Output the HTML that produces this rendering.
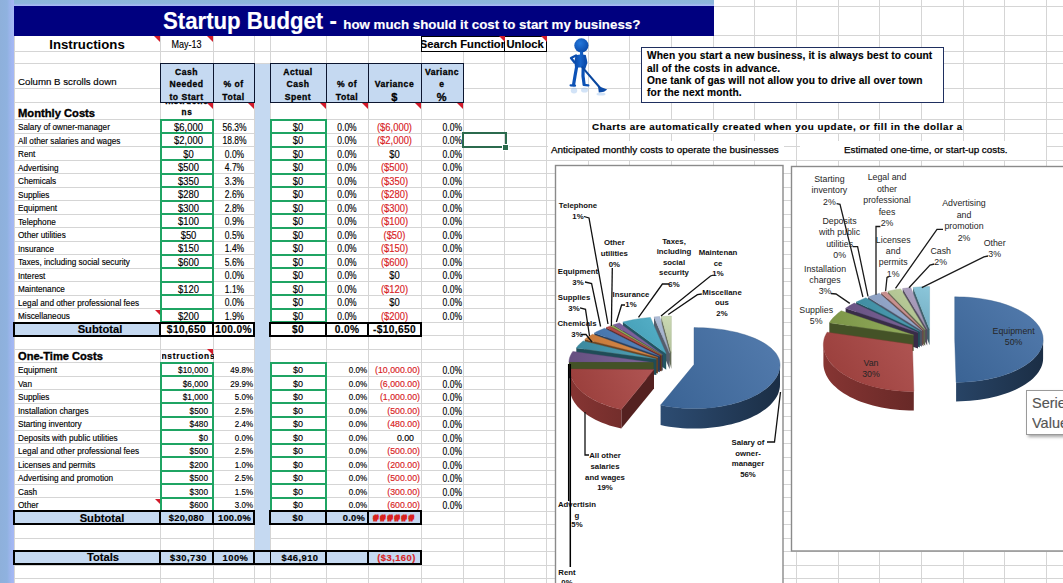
<!DOCTYPE html>
<html><head><meta charset="utf-8"><title>Startup Budget</title>
<style>
html,body{margin:0;padding:0;background:#fff}
body{width:1063px;height:583px;position:relative;overflow:hidden;font-family:"Liberation Sans",sans-serif;color:#000}
body>div,body>svg{position:absolute}
.t{text-align:center;white-space:nowrap;-webkit-text-stroke:.15px currentColor}
.c{text-align:center}
svg text{font-family:"Liberation Sans",sans-serif}
</style></head><body>
<div style="left:13.5px;top:35.0px;width:1.0px;height:548.0px;background:#d5d5d5"></div>
<div style="left:159.5px;top:35.0px;width:1.0px;height:548.0px;background:#d5d5d5"></div>
<div style="left:212.5px;top:35.0px;width:1.0px;height:548.0px;background:#d5d5d5"></div>
<div style="left:253.5px;top:35.0px;width:1.0px;height:548.0px;background:#d5d5d5"></div>
<div style="left:269.5px;top:35.0px;width:1.0px;height:548.0px;background:#d5d5d5"></div>
<div style="left:325.5px;top:35.0px;width:1.0px;height:548.0px;background:#d5d5d5"></div>
<div style="left:367.5px;top:35.0px;width:1.0px;height:548.0px;background:#d5d5d5"></div>
<div style="left:420.5px;top:35.0px;width:1.0px;height:548.0px;background:#d5d5d5"></div>
<div style="left:462.5px;top:35.0px;width:1.0px;height:548.0px;background:#d5d5d5"></div>
<div style="left:504.0px;top:35.0px;width:1.0px;height:548.0px;background:#d5d5d5"></div>
<div style="left:546.0px;top:35.0px;width:1.0px;height:548.0px;background:#d5d5d5"></div>
<div style="left:588.0px;top:35.0px;width:1.0px;height:548.0px;background:#d5d5d5"></div>
<div style="left:629.0px;top:35.0px;width:1.0px;height:548.0px;background:#d5d5d5"></div>
<div style="left:671.0px;top:35.0px;width:1.0px;height:548.0px;background:#d5d5d5"></div>
<div style="left:713.0px;top:35.0px;width:1.0px;height:548.0px;background:#d5d5d5"></div>
<div style="left:754.0px;top:0.0px;width:1.0px;height:583.0px;background:#d5d5d5"></div>
<div style="left:796.0px;top:0.0px;width:1.0px;height:583.0px;background:#d5d5d5"></div>
<div style="left:838.0px;top:0.0px;width:1.0px;height:583.0px;background:#d5d5d5"></div>
<div style="left:879.0px;top:0.0px;width:1.0px;height:583.0px;background:#d5d5d5"></div>
<div style="left:921.0px;top:0.0px;width:1.0px;height:583.0px;background:#d5d5d5"></div>
<div style="left:963.0px;top:0.0px;width:1.0px;height:583.0px;background:#d5d5d5"></div>
<div style="left:1004.0px;top:0.0px;width:1.0px;height:583.0px;background:#d5d5d5"></div>
<div style="left:1046.0px;top:0.0px;width:1.0px;height:583.0px;background:#d5d5d5"></div>
<div style="left:714.0px;top:5.5px;width:349.0px;height:1.0px;background:#d5d5d5"></div>
<div style="left:14.0px;top:35.0px;width:1049.0px;height:1.0px;background:#d5d5d5"></div>
<div style="left:14.0px;top:51.1px;width:1049.0px;height:1.0px;background:#d5d5d5"></div>
<div style="left:14.0px;top:63.1px;width:1049.0px;height:1.0px;background:#d5d5d5"></div>
<div style="left:14.0px;top:88.1px;width:1049.0px;height:1.0px;background:#d5d5d5"></div>
<div style="left:14.0px;top:101.9px;width:1049.0px;height:1.0px;background:#d5d5d5"></div>
<div style="left:14.0px;top:119.3px;width:1049.0px;height:1.0px;background:#d5d5d5"></div>
<div style="left:14.0px;top:132.8px;width:1049.0px;height:1.0px;background:#d5d5d5"></div>
<div style="left:14.0px;top:146.3px;width:1049.0px;height:1.0px;background:#d5d5d5"></div>
<div style="left:14.0px;top:159.8px;width:1049.0px;height:1.0px;background:#d5d5d5"></div>
<div style="left:14.0px;top:173.3px;width:1049.0px;height:1.0px;background:#d5d5d5"></div>
<div style="left:14.0px;top:186.8px;width:1049.0px;height:1.0px;background:#d5d5d5"></div>
<div style="left:14.0px;top:200.3px;width:1049.0px;height:1.0px;background:#d5d5d5"></div>
<div style="left:14.0px;top:213.8px;width:1049.0px;height:1.0px;background:#d5d5d5"></div>
<div style="left:14.0px;top:227.3px;width:1049.0px;height:1.0px;background:#d5d5d5"></div>
<div style="left:14.0px;top:240.8px;width:1049.0px;height:1.0px;background:#d5d5d5"></div>
<div style="left:14.0px;top:254.3px;width:1049.0px;height:1.0px;background:#d5d5d5"></div>
<div style="left:14.0px;top:267.8px;width:1049.0px;height:1.0px;background:#d5d5d5"></div>
<div style="left:14.0px;top:281.3px;width:1049.0px;height:1.0px;background:#d5d5d5"></div>
<div style="left:14.0px;top:294.8px;width:1049.0px;height:1.0px;background:#d5d5d5"></div>
<div style="left:14.0px;top:308.3px;width:1049.0px;height:1.0px;background:#d5d5d5"></div>
<div style="left:14.0px;top:321.8px;width:1049.0px;height:1.0px;background:#d5d5d5"></div>
<div style="left:14.0px;top:335.3px;width:1049.0px;height:1.0px;background:#d5d5d5"></div>
<div style="left:14.0px;top:348.8px;width:1049.0px;height:1.0px;background:#d5d5d5"></div>
<div style="left:14.0px;top:362.3px;width:1049.0px;height:1.0px;background:#d5d5d5"></div>
<div style="left:14.0px;top:375.8px;width:1049.0px;height:1.0px;background:#d5d5d5"></div>
<div style="left:14.0px;top:389.3px;width:1049.0px;height:1.0px;background:#d5d5d5"></div>
<div style="left:14.0px;top:402.8px;width:1049.0px;height:1.0px;background:#d5d5d5"></div>
<div style="left:14.0px;top:416.3px;width:1049.0px;height:1.0px;background:#d5d5d5"></div>
<div style="left:14.0px;top:429.8px;width:1049.0px;height:1.0px;background:#d5d5d5"></div>
<div style="left:14.0px;top:443.3px;width:1049.0px;height:1.0px;background:#d5d5d5"></div>
<div style="left:14.0px;top:456.8px;width:1049.0px;height:1.0px;background:#d5d5d5"></div>
<div style="left:14.0px;top:470.3px;width:1049.0px;height:1.0px;background:#d5d5d5"></div>
<div style="left:14.0px;top:483.8px;width:1049.0px;height:1.0px;background:#d5d5d5"></div>
<div style="left:14.0px;top:497.3px;width:1049.0px;height:1.0px;background:#d5d5d5"></div>
<div style="left:14.0px;top:510.8px;width:1049.0px;height:1.0px;background:#d5d5d5"></div>
<div style="left:14.0px;top:524.3px;width:1049.0px;height:1.0px;background:#d5d5d5"></div>
<div style="left:14.0px;top:537.8px;width:1049.0px;height:1.0px;background:#d5d5d5"></div>
<div style="left:14.0px;top:551.3px;width:1049.0px;height:1.0px;background:#d5d5d5"></div>
<div style="left:14.0px;top:564.8px;width:1049.0px;height:1.0px;background:#d5d5d5"></div>
<div style="left:14.0px;top:578.3px;width:1049.0px;height:1.0px;background:#d5d5d5"></div>
<div style="left:14.0px;top:591.8px;width:1049.0px;height:1.0px;background:#d5d5d5"></div>
<div style="left:0.0px;top:0.0px;width:714.0px;height:6.4px;background:linear-gradient(to bottom,#8cb7d9 0%,#8db6dc 55%,#a6b9f4 90%,#a8baf6 100%)"></div>
<div style="left:0.0px;top:0.0px;width:14.0px;height:583.0px;background:linear-gradient(to right,#8eb0db 0%,#8fb2df 50%,#a0b6f0 80%,#a6b8f6 100%)"></div>
<div style="left:254.5px;top:63.5px;width:15.5px;height:501.5px;background:#c5d9f1"></div>
<div style="left:14.0px;top:6.0px;width:700.0px;height:29.5px;background:#00007f"></div>
<div class="t" style="left:163px;top:6px;width:200px;height:29px;line-height:30.6px;color:#fff;font-weight:bold;text-align:left;font-size:23.2px;transform:scaleX(.957);transform-origin:left center">Startup Budget -</div>
<div class="t" style="left:343.3px;top:6px;width:340px;height:29px;line-height:38.2px;color:#fff;font-weight:bold;text-align:left;font-size:13.3px">how much should it cost to start my business?</div>
<div class="t c" style="left:14.0px;top:36.8px;width:146.0px;height:15.0px;line-height:15.0px;font-size:13.2px;font-weight:bold;-webkit-text-stroke:0">Instructions</div>
<div class="t c" style="left:160.0px;top:37.0px;width:53.0px;height:15.0px;line-height:15.0px;font-size:10px;transform:scaleX(0.9);transform-origin:center center">May-13</div>
<div style="left:421.0px;top:35.5px;width:84.0px;height:16.5px;border:1px solid #000;box-sizing:border-box;background:#fff"></div>
<div style="left:505.0px;top:35.5px;width:42.0px;height:16.5px;border:1px solid #000;box-sizing:border-box;background:#fff;border-left:0"></div>
<div class="t" style="left:422px;top:38px;width:82px;height:13px;line-height:13px;overflow:hidden;text-align:left;font-size:11.2px;font-weight:bold"><span style="margin-left:-2.2px">Search Function</span></div>
<div class="t " style="left:506.5px;top:38.0px;width:40.0px;height:13.0px;line-height:13.0px;font-size:11.2px;font-weight:bold;text-align:left;white-space:nowrap">Unlock</div>
<svg class="a" style="left:154.0px;top:36.0px" width="6" height="6"><polygon points="0,0 6,0 6,6" fill="#d21a2a"/></svg>
<svg class="a" style="left:207.0px;top:36.0px" width="6" height="6"><polygon points="0,0 6,0 6,6" fill="#d21a2a"/></svg>
<svg class="a" style="left:499.0px;top:36.0px" width="6" height="6"><polygon points="0,0 6,0 6,6" fill="#d21a2a"/></svg>
<svg class="a" style="left:541.0px;top:36.0px" width="6" height="6"><polygon points="0,0 6,0 6,6" fill="#d21a2a"/></svg>
<div style="left:160.0px;top:63.0px;width:54.0px;height:40.0px;background:#c5d9f1;border:1px solid #0c1630;box-sizing:border-box"></div>
<div class="t c" style="left:160px;top:65.7px;width:53px;height:38px;line-height:12.4px;font-size:8.6px;font-weight:bold;letter-spacing:.5px;-webkit-text-stroke:.3px #000">Cash<br>Needed<br>to Start</div>
<svg class="a" style="left:207.0px;top:103.0px" width="6" height="6"><polygon points="0,0 6,0 6,6" fill="#d21a2a"/></svg>
<div style="left:213.0px;top:63.0px;width:42.0px;height:40.0px;background:#c5d9f1;border:1px solid #0c1630;box-sizing:border-box"></div>
<div class="t c" style="left:213px;top:65.7px;width:41px;height:38px;line-height:12.4px;font-size:8.6px;font-weight:bold;letter-spacing:.5px;-webkit-text-stroke:.3px #000"><br>% of<br>Total</div>
<svg class="a" style="left:248.0px;top:103.0px" width="6" height="6"><polygon points="0,0 6,0 6,6" fill="#d21a2a"/></svg>
<div style="left:270.0px;top:63.0px;width:57.0px;height:40.0px;background:#c5d9f1;border:1px solid #0c1630;box-sizing:border-box"></div>
<div class="t c" style="left:270px;top:65.7px;width:56px;height:38px;line-height:12.4px;font-size:8.6px;font-weight:bold;letter-spacing:.5px;-webkit-text-stroke:.3px #000">Actual<br>Cash<br>Spent</div>
<svg class="a" style="left:320.0px;top:103.0px" width="6" height="6"><polygon points="0,0 6,0 6,6" fill="#d21a2a"/></svg>
<div style="left:326.0px;top:63.0px;width:43.0px;height:40.0px;background:#c5d9f1;border:1px solid #0c1630;box-sizing:border-box"></div>
<div class="t c" style="left:326px;top:65.7px;width:42px;height:38px;line-height:12.4px;font-size:8.6px;font-weight:bold;letter-spacing:.5px;-webkit-text-stroke:.3px #000"><br>% of<br>Total</div>
<svg class="a" style="left:362.0px;top:103.0px" width="6" height="6"><polygon points="0,0 6,0 6,6" fill="#d21a2a"/></svg>
<div style="left:368.0px;top:63.0px;width:54.0px;height:40.0px;background:#c5d9f1;border:1px solid #0c1630;box-sizing:border-box"></div>
<div class="t c" style="left:368px;top:65.7px;width:53px;height:38px;line-height:12.4px;font-size:8.6px;font-weight:bold;letter-spacing:.5px;-webkit-text-stroke:.3px #000"><br>Variance<br><span style="font-size:11px">$</span></div>
<svg class="a" style="left:415.0px;top:103.0px" width="6" height="6"><polygon points="0,0 6,0 6,6" fill="#d21a2a"/></svg>
<div style="left:421.0px;top:63.0px;width:43.0px;height:40.0px;background:#c5d9f1;border:1px solid #0c1630;box-sizing:border-box"></div>
<div class="t c" style="left:421px;top:65.7px;width:42px;height:38px;line-height:12.4px;font-size:8.6px;font-weight:bold;letter-spacing:.5px;-webkit-text-stroke:.3px #000">Varianc<br>e<br><span style="font-size:11px">%</span></div>
<svg class="a" style="left:457.0px;top:103.0px" width="6" height="6"><polygon points="0,0 6,0 6,6" fill="#d21a2a"/></svg>
<div class="t " style="left:18.0px;top:75.0px;width:140.0px;height:14.0px;line-height:14.0px;font-size:9.7px;text-align:left">Column B scrolls down</div>
<div class="t " style="left:18.0px;top:105.0px;width:140.0px;height:16.0px;line-height:16.0px;font-size:11.2px;font-weight:bold;text-align:left;-webkit-text-stroke:.35px #000">Monthly Costs</div>
<div class="t c" style="left:161px;top:103px;width:52px;height:16px;overflow:hidden"><div style="margin-top:-5.6px;line-height:10.4px;font-size:8.2px;font-weight:bold;letter-spacing:.6px;-webkit-text-stroke:.3px #000">Instructio<br>ns</div></div>
<div style="left:160.0px;top:119.0px;width:2.0px;height:204.0px;background:#1fa463"></div>
<div style="left:212.0px;top:119.0px;width:2.0px;height:204.0px;background:#1fa463"></div>
<div style="left:160.0px;top:119.0px;width:54.0px;height:2.0px;background:#1fa463"></div>
<div style="left:160.0px;top:132.0px;width:54.0px;height:2.0px;background:#1fa463"></div>
<div style="left:160.0px;top:146.0px;width:54.0px;height:2.0px;background:#1fa463"></div>
<div style="left:160.0px;top:159.0px;width:54.0px;height:2.0px;background:#1fa463"></div>
<div style="left:160.0px;top:173.0px;width:54.0px;height:2.0px;background:#1fa463"></div>
<div style="left:160.0px;top:186.0px;width:54.0px;height:2.0px;background:#1fa463"></div>
<div style="left:160.0px;top:200.0px;width:54.0px;height:2.0px;background:#1fa463"></div>
<div style="left:160.0px;top:213.0px;width:54.0px;height:2.0px;background:#1fa463"></div>
<div style="left:160.0px;top:227.0px;width:54.0px;height:2.0px;background:#1fa463"></div>
<div style="left:160.0px;top:240.0px;width:54.0px;height:2.0px;background:#1fa463"></div>
<div style="left:160.0px;top:254.0px;width:54.0px;height:2.0px;background:#1fa463"></div>
<div style="left:160.0px;top:267.0px;width:54.0px;height:2.0px;background:#1fa463"></div>
<div style="left:160.0px;top:281.0px;width:54.0px;height:2.0px;background:#1fa463"></div>
<div style="left:160.0px;top:294.0px;width:54.0px;height:2.0px;background:#1fa463"></div>
<div style="left:160.0px;top:308.0px;width:54.0px;height:2.0px;background:#1fa463"></div>
<div style="left:160.0px;top:321.0px;width:54.0px;height:2.0px;background:#1fa463"></div>
<div style="left:270.0px;top:119.0px;width:2.0px;height:204.0px;background:#1fa463"></div>
<div style="left:325.0px;top:119.0px;width:2.0px;height:204.0px;background:#1fa463"></div>
<div style="left:270.0px;top:119.0px;width:57.0px;height:2.0px;background:#1fa463"></div>
<div style="left:270.0px;top:132.0px;width:57.0px;height:2.0px;background:#1fa463"></div>
<div style="left:270.0px;top:146.0px;width:57.0px;height:2.0px;background:#1fa463"></div>
<div style="left:270.0px;top:159.0px;width:57.0px;height:2.0px;background:#1fa463"></div>
<div style="left:270.0px;top:173.0px;width:57.0px;height:2.0px;background:#1fa463"></div>
<div style="left:270.0px;top:186.0px;width:57.0px;height:2.0px;background:#1fa463"></div>
<div style="left:270.0px;top:200.0px;width:57.0px;height:2.0px;background:#1fa463"></div>
<div style="left:270.0px;top:213.0px;width:57.0px;height:2.0px;background:#1fa463"></div>
<div style="left:270.0px;top:227.0px;width:57.0px;height:2.0px;background:#1fa463"></div>
<div style="left:270.0px;top:240.0px;width:57.0px;height:2.0px;background:#1fa463"></div>
<div style="left:270.0px;top:254.0px;width:57.0px;height:2.0px;background:#1fa463"></div>
<div style="left:270.0px;top:267.0px;width:57.0px;height:2.0px;background:#1fa463"></div>
<div style="left:270.0px;top:281.0px;width:57.0px;height:2.0px;background:#1fa463"></div>
<div style="left:270.0px;top:294.0px;width:57.0px;height:2.0px;background:#1fa463"></div>
<div style="left:270.0px;top:308.0px;width:57.0px;height:2.0px;background:#1fa463"></div>
<div style="left:270.0px;top:321.0px;width:57.0px;height:2.0px;background:#1fa463"></div>
<div class="t " style="left:18.0px;top:121.2px;width:140.0px;height:13.5px;line-height:13.5px;font-size:9.1px;text-align:left;transform:scaleX(0.9);transform-origin:left center">Salary of owner-manager</div>
<div class="t c" style="left:162.0px;top:120.5px;width:53.0px;height:13.5px;line-height:13.5px;font-size:10px;transform:scaleX(0.94);transform-origin:center center">$6,000</div>
<div class="t c" style="left:214.0px;top:120.5px;width:41.0px;height:13.5px;line-height:13.5px;font-size:10px;transform:scaleX(0.85);transform-origin:center center">56.3%</div>
<div class="t c" style="left:270.0px;top:120.5px;width:56.0px;height:13.5px;line-height:13.5px;font-size:10px;transform:scaleX(0.94);transform-origin:center center">$0</div>
<div class="t c" style="left:326.0px;top:120.5px;width:42.0px;height:13.5px;line-height:13.5px;font-size:10px;transform:scaleX(0.85);transform-origin:center center">0.0%</div>
<div class="t c" style="left:368.0px;top:120.5px;width:53.0px;height:13.5px;line-height:13.5px;font-size:10px;color:#d8231f;transform:scaleX(0.94);transform-origin:center center">($6,000)</div>
<div class="t " style="left:421.0px;top:120.5px;width:41.0px;height:13.5px;line-height:13.5px;font-size:10px;text-align:right;transform:scaleX(0.85);transform-origin:right center">0.0%</div>
<div class="t " style="left:18.0px;top:134.7px;width:140.0px;height:13.5px;line-height:13.5px;font-size:9.1px;text-align:left;transform:scaleX(0.9);transform-origin:left center">All other salaries and wages</div>
<div class="t c" style="left:162.0px;top:134.0px;width:53.0px;height:13.5px;line-height:13.5px;font-size:10px;transform:scaleX(0.94);transform-origin:center center">$2,000</div>
<div class="t c" style="left:214.0px;top:134.0px;width:41.0px;height:13.5px;line-height:13.5px;font-size:10px;transform:scaleX(0.85);transform-origin:center center">18.8%</div>
<div class="t c" style="left:270.0px;top:134.0px;width:56.0px;height:13.5px;line-height:13.5px;font-size:10px;transform:scaleX(0.94);transform-origin:center center">$0</div>
<div class="t c" style="left:326.0px;top:134.0px;width:42.0px;height:13.5px;line-height:13.5px;font-size:10px;transform:scaleX(0.85);transform-origin:center center">0.0%</div>
<div class="t c" style="left:368.0px;top:134.0px;width:53.0px;height:13.5px;line-height:13.5px;font-size:10px;color:#d8231f;transform:scaleX(0.94);transform-origin:center center">($2,000)</div>
<div class="t " style="left:421.0px;top:134.0px;width:41.0px;height:13.5px;line-height:13.5px;font-size:10px;text-align:right;transform:scaleX(0.85);transform-origin:right center">0.0%</div>
<div class="t " style="left:18.0px;top:148.2px;width:140.0px;height:13.5px;line-height:13.5px;font-size:9.1px;text-align:left;transform:scaleX(0.9);transform-origin:left center">Rent</div>
<div class="t c" style="left:162.0px;top:147.5px;width:53.0px;height:13.5px;line-height:13.5px;font-size:10px;transform:scaleX(0.94);transform-origin:center center">$0</div>
<div class="t c" style="left:214.0px;top:147.5px;width:41.0px;height:13.5px;line-height:13.5px;font-size:10px;transform:scaleX(0.85);transform-origin:center center">0.0%</div>
<div class="t c" style="left:270.0px;top:147.5px;width:56.0px;height:13.5px;line-height:13.5px;font-size:10px;transform:scaleX(0.94);transform-origin:center center">$0</div>
<div class="t c" style="left:326.0px;top:147.5px;width:42.0px;height:13.5px;line-height:13.5px;font-size:10px;transform:scaleX(0.85);transform-origin:center center">0.0%</div>
<div class="t c" style="left:368.0px;top:147.5px;width:53.0px;height:13.5px;line-height:13.5px;font-size:10px;color:#000;transform:scaleX(0.94);transform-origin:center center">$0</div>
<div class="t " style="left:421.0px;top:147.5px;width:41.0px;height:13.5px;line-height:13.5px;font-size:10px;text-align:right;transform:scaleX(0.85);transform-origin:right center">0.0%</div>
<div class="t " style="left:18.0px;top:161.7px;width:140.0px;height:13.5px;line-height:13.5px;font-size:9.1px;text-align:left;transform:scaleX(0.9);transform-origin:left center">Advertising</div>
<div class="t c" style="left:162.0px;top:161.0px;width:53.0px;height:13.5px;line-height:13.5px;font-size:10px;transform:scaleX(0.94);transform-origin:center center">$500</div>
<div class="t c" style="left:214.0px;top:161.0px;width:41.0px;height:13.5px;line-height:13.5px;font-size:10px;transform:scaleX(0.85);transform-origin:center center">4.7%</div>
<div class="t c" style="left:270.0px;top:161.0px;width:56.0px;height:13.5px;line-height:13.5px;font-size:10px;transform:scaleX(0.94);transform-origin:center center">$0</div>
<div class="t c" style="left:326.0px;top:161.0px;width:42.0px;height:13.5px;line-height:13.5px;font-size:10px;transform:scaleX(0.85);transform-origin:center center">0.0%</div>
<div class="t c" style="left:368.0px;top:161.0px;width:53.0px;height:13.5px;line-height:13.5px;font-size:10px;color:#d8231f;transform:scaleX(0.94);transform-origin:center center">($500)</div>
<div class="t " style="left:421.0px;top:161.0px;width:41.0px;height:13.5px;line-height:13.5px;font-size:10px;text-align:right;transform:scaleX(0.85);transform-origin:right center">0.0%</div>
<div class="t " style="left:18.0px;top:175.2px;width:140.0px;height:13.5px;line-height:13.5px;font-size:9.1px;text-align:left;transform:scaleX(0.9);transform-origin:left center">Chemicals</div>
<div class="t c" style="left:162.0px;top:174.5px;width:53.0px;height:13.5px;line-height:13.5px;font-size:10px;transform:scaleX(0.94);transform-origin:center center">$350</div>
<div class="t c" style="left:214.0px;top:174.5px;width:41.0px;height:13.5px;line-height:13.5px;font-size:10px;transform:scaleX(0.85);transform-origin:center center">3.3%</div>
<div class="t c" style="left:270.0px;top:174.5px;width:56.0px;height:13.5px;line-height:13.5px;font-size:10px;transform:scaleX(0.94);transform-origin:center center">$0</div>
<div class="t c" style="left:326.0px;top:174.5px;width:42.0px;height:13.5px;line-height:13.5px;font-size:10px;transform:scaleX(0.85);transform-origin:center center">0.0%</div>
<div class="t c" style="left:368.0px;top:174.5px;width:53.0px;height:13.5px;line-height:13.5px;font-size:10px;color:#d8231f;transform:scaleX(0.94);transform-origin:center center">($350)</div>
<div class="t " style="left:421.0px;top:174.5px;width:41.0px;height:13.5px;line-height:13.5px;font-size:10px;text-align:right;transform:scaleX(0.85);transform-origin:right center">0.0%</div>
<div class="t " style="left:18.0px;top:188.7px;width:140.0px;height:13.5px;line-height:13.5px;font-size:9.1px;text-align:left;transform:scaleX(0.9);transform-origin:left center">Supplies</div>
<div class="t c" style="left:162.0px;top:188.0px;width:53.0px;height:13.5px;line-height:13.5px;font-size:10px;transform:scaleX(0.94);transform-origin:center center">$280</div>
<div class="t c" style="left:214.0px;top:188.0px;width:41.0px;height:13.5px;line-height:13.5px;font-size:10px;transform:scaleX(0.85);transform-origin:center center">2.6%</div>
<div class="t c" style="left:270.0px;top:188.0px;width:56.0px;height:13.5px;line-height:13.5px;font-size:10px;transform:scaleX(0.94);transform-origin:center center">$0</div>
<div class="t c" style="left:326.0px;top:188.0px;width:42.0px;height:13.5px;line-height:13.5px;font-size:10px;transform:scaleX(0.85);transform-origin:center center">0.0%</div>
<div class="t c" style="left:368.0px;top:188.0px;width:53.0px;height:13.5px;line-height:13.5px;font-size:10px;color:#d8231f;transform:scaleX(0.94);transform-origin:center center">($280)</div>
<div class="t " style="left:421.0px;top:188.0px;width:41.0px;height:13.5px;line-height:13.5px;font-size:10px;text-align:right;transform:scaleX(0.85);transform-origin:right center">0.0%</div>
<div class="t " style="left:18.0px;top:202.2px;width:140.0px;height:13.5px;line-height:13.5px;font-size:9.1px;text-align:left;transform:scaleX(0.9);transform-origin:left center">Equipment</div>
<div class="t c" style="left:162.0px;top:201.5px;width:53.0px;height:13.5px;line-height:13.5px;font-size:10px;transform:scaleX(0.94);transform-origin:center center">$300</div>
<div class="t c" style="left:214.0px;top:201.5px;width:41.0px;height:13.5px;line-height:13.5px;font-size:10px;transform:scaleX(0.85);transform-origin:center center">2.8%</div>
<div class="t c" style="left:270.0px;top:201.5px;width:56.0px;height:13.5px;line-height:13.5px;font-size:10px;transform:scaleX(0.94);transform-origin:center center">$0</div>
<div class="t c" style="left:326.0px;top:201.5px;width:42.0px;height:13.5px;line-height:13.5px;font-size:10px;transform:scaleX(0.85);transform-origin:center center">0.0%</div>
<div class="t c" style="left:368.0px;top:201.5px;width:53.0px;height:13.5px;line-height:13.5px;font-size:10px;color:#d8231f;transform:scaleX(0.94);transform-origin:center center">($300)</div>
<div class="t " style="left:421.0px;top:201.5px;width:41.0px;height:13.5px;line-height:13.5px;font-size:10px;text-align:right;transform:scaleX(0.85);transform-origin:right center">0.0%</div>
<div class="t " style="left:18.0px;top:215.7px;width:140.0px;height:13.5px;line-height:13.5px;font-size:9.1px;text-align:left;transform:scaleX(0.9);transform-origin:left center">Telephone</div>
<div class="t c" style="left:162.0px;top:215.0px;width:53.0px;height:13.5px;line-height:13.5px;font-size:10px;transform:scaleX(0.94);transform-origin:center center">$100</div>
<div class="t c" style="left:214.0px;top:215.0px;width:41.0px;height:13.5px;line-height:13.5px;font-size:10px;transform:scaleX(0.85);transform-origin:center center">0.9%</div>
<div class="t c" style="left:270.0px;top:215.0px;width:56.0px;height:13.5px;line-height:13.5px;font-size:10px;transform:scaleX(0.94);transform-origin:center center">$0</div>
<div class="t c" style="left:326.0px;top:215.0px;width:42.0px;height:13.5px;line-height:13.5px;font-size:10px;transform:scaleX(0.85);transform-origin:center center">0.0%</div>
<div class="t c" style="left:368.0px;top:215.0px;width:53.0px;height:13.5px;line-height:13.5px;font-size:10px;color:#d8231f;transform:scaleX(0.94);transform-origin:center center">($100)</div>
<div class="t " style="left:421.0px;top:215.0px;width:41.0px;height:13.5px;line-height:13.5px;font-size:10px;text-align:right;transform:scaleX(0.85);transform-origin:right center">0.0%</div>
<div class="t " style="left:18.0px;top:229.2px;width:140.0px;height:13.5px;line-height:13.5px;font-size:9.1px;text-align:left;transform:scaleX(0.9);transform-origin:left center">Other utilities</div>
<div class="t c" style="left:162.0px;top:228.5px;width:53.0px;height:13.5px;line-height:13.5px;font-size:10px;transform:scaleX(0.94);transform-origin:center center">$50</div>
<div class="t c" style="left:214.0px;top:228.5px;width:41.0px;height:13.5px;line-height:13.5px;font-size:10px;transform:scaleX(0.85);transform-origin:center center">0.5%</div>
<div class="t c" style="left:270.0px;top:228.5px;width:56.0px;height:13.5px;line-height:13.5px;font-size:10px;transform:scaleX(0.94);transform-origin:center center">$0</div>
<div class="t c" style="left:326.0px;top:228.5px;width:42.0px;height:13.5px;line-height:13.5px;font-size:10px;transform:scaleX(0.85);transform-origin:center center">0.0%</div>
<div class="t c" style="left:368.0px;top:228.5px;width:53.0px;height:13.5px;line-height:13.5px;font-size:10px;color:#d8231f;transform:scaleX(0.94);transform-origin:center center">($50)</div>
<div class="t " style="left:421.0px;top:228.5px;width:41.0px;height:13.5px;line-height:13.5px;font-size:10px;text-align:right;transform:scaleX(0.85);transform-origin:right center">0.0%</div>
<div class="t " style="left:18.0px;top:242.7px;width:140.0px;height:13.5px;line-height:13.5px;font-size:9.1px;text-align:left;transform:scaleX(0.9);transform-origin:left center">Insurance</div>
<div class="t c" style="left:162.0px;top:242.0px;width:53.0px;height:13.5px;line-height:13.5px;font-size:10px;transform:scaleX(0.94);transform-origin:center center">$150</div>
<div class="t c" style="left:214.0px;top:242.0px;width:41.0px;height:13.5px;line-height:13.5px;font-size:10px;transform:scaleX(0.85);transform-origin:center center">1.4%</div>
<div class="t c" style="left:270.0px;top:242.0px;width:56.0px;height:13.5px;line-height:13.5px;font-size:10px;transform:scaleX(0.94);transform-origin:center center">$0</div>
<div class="t c" style="left:326.0px;top:242.0px;width:42.0px;height:13.5px;line-height:13.5px;font-size:10px;transform:scaleX(0.85);transform-origin:center center">0.0%</div>
<div class="t c" style="left:368.0px;top:242.0px;width:53.0px;height:13.5px;line-height:13.5px;font-size:10px;color:#d8231f;transform:scaleX(0.94);transform-origin:center center">($150)</div>
<div class="t " style="left:421.0px;top:242.0px;width:41.0px;height:13.5px;line-height:13.5px;font-size:10px;text-align:right;transform:scaleX(0.85);transform-origin:right center">0.0%</div>
<div class="t " style="left:18.0px;top:256.2px;width:140.0px;height:13.5px;line-height:13.5px;font-size:9.1px;text-align:left;transform:scaleX(0.9);transform-origin:left center">Taxes, including social security</div>
<div class="t c" style="left:162.0px;top:255.5px;width:53.0px;height:13.5px;line-height:13.5px;font-size:10px;transform:scaleX(0.94);transform-origin:center center">$600</div>
<div class="t c" style="left:214.0px;top:255.5px;width:41.0px;height:13.5px;line-height:13.5px;font-size:10px;transform:scaleX(0.85);transform-origin:center center">5.6%</div>
<div class="t c" style="left:270.0px;top:255.5px;width:56.0px;height:13.5px;line-height:13.5px;font-size:10px;transform:scaleX(0.94);transform-origin:center center">$0</div>
<div class="t c" style="left:326.0px;top:255.5px;width:42.0px;height:13.5px;line-height:13.5px;font-size:10px;transform:scaleX(0.85);transform-origin:center center">0.0%</div>
<div class="t c" style="left:368.0px;top:255.5px;width:53.0px;height:13.5px;line-height:13.5px;font-size:10px;color:#d8231f;transform:scaleX(0.94);transform-origin:center center">($600)</div>
<div class="t " style="left:421.0px;top:255.5px;width:41.0px;height:13.5px;line-height:13.5px;font-size:10px;text-align:right;transform:scaleX(0.85);transform-origin:right center">0.0%</div>
<div class="t " style="left:18.0px;top:269.7px;width:140.0px;height:13.5px;line-height:13.5px;font-size:9.1px;text-align:left;transform:scaleX(0.9);transform-origin:left center">Interest</div>
<div class="t c" style="left:162.0px;top:269.0px;width:53.0px;height:13.5px;line-height:13.5px;font-size:10px;transform:scaleX(0.94);transform-origin:center center"></div>
<div class="t c" style="left:214.0px;top:269.0px;width:41.0px;height:13.5px;line-height:13.5px;font-size:10px;transform:scaleX(0.85);transform-origin:center center">0.0%</div>
<div class="t c" style="left:270.0px;top:269.0px;width:56.0px;height:13.5px;line-height:13.5px;font-size:10px;transform:scaleX(0.94);transform-origin:center center">$0</div>
<div class="t c" style="left:326.0px;top:269.0px;width:42.0px;height:13.5px;line-height:13.5px;font-size:10px;transform:scaleX(0.85);transform-origin:center center">0.0%</div>
<div class="t c" style="left:368.0px;top:269.0px;width:53.0px;height:13.5px;line-height:13.5px;font-size:10px;color:#000;transform:scaleX(0.94);transform-origin:center center">$0</div>
<div class="t " style="left:421.0px;top:269.0px;width:41.0px;height:13.5px;line-height:13.5px;font-size:10px;text-align:right;transform:scaleX(0.85);transform-origin:right center">0.0%</div>
<div class="t " style="left:18.0px;top:283.2px;width:140.0px;height:13.5px;line-height:13.5px;font-size:9.1px;text-align:left;transform:scaleX(0.9);transform-origin:left center">Maintenance</div>
<div class="t c" style="left:162.0px;top:282.5px;width:53.0px;height:13.5px;line-height:13.5px;font-size:10px;transform:scaleX(0.94);transform-origin:center center">$120</div>
<div class="t c" style="left:214.0px;top:282.5px;width:41.0px;height:13.5px;line-height:13.5px;font-size:10px;transform:scaleX(0.85);transform-origin:center center">1.1%</div>
<div class="t c" style="left:270.0px;top:282.5px;width:56.0px;height:13.5px;line-height:13.5px;font-size:10px;transform:scaleX(0.94);transform-origin:center center">$0</div>
<div class="t c" style="left:326.0px;top:282.5px;width:42.0px;height:13.5px;line-height:13.5px;font-size:10px;transform:scaleX(0.85);transform-origin:center center">0.0%</div>
<div class="t c" style="left:368.0px;top:282.5px;width:53.0px;height:13.5px;line-height:13.5px;font-size:10px;color:#d8231f;transform:scaleX(0.94);transform-origin:center center">($120)</div>
<div class="t " style="left:421.0px;top:282.5px;width:41.0px;height:13.5px;line-height:13.5px;font-size:10px;text-align:right;transform:scaleX(0.85);transform-origin:right center">0.0%</div>
<div class="t " style="left:18.0px;top:296.7px;width:140.0px;height:13.5px;line-height:13.5px;font-size:9.1px;text-align:left;transform:scaleX(0.9);transform-origin:left center">Legal and other professional fees</div>
<div class="t c" style="left:162.0px;top:296.0px;width:53.0px;height:13.5px;line-height:13.5px;font-size:10px;transform:scaleX(0.94);transform-origin:center center"></div>
<div class="t c" style="left:214.0px;top:296.0px;width:41.0px;height:13.5px;line-height:13.5px;font-size:10px;transform:scaleX(0.85);transform-origin:center center">0.0%</div>
<div class="t c" style="left:270.0px;top:296.0px;width:56.0px;height:13.5px;line-height:13.5px;font-size:10px;transform:scaleX(0.94);transform-origin:center center">$0</div>
<div class="t c" style="left:326.0px;top:296.0px;width:42.0px;height:13.5px;line-height:13.5px;font-size:10px;transform:scaleX(0.85);transform-origin:center center">0.0%</div>
<div class="t c" style="left:368.0px;top:296.0px;width:53.0px;height:13.5px;line-height:13.5px;font-size:10px;color:#000;transform:scaleX(0.94);transform-origin:center center">$0</div>
<div class="t " style="left:421.0px;top:296.0px;width:41.0px;height:13.5px;line-height:13.5px;font-size:10px;text-align:right;transform:scaleX(0.85);transform-origin:right center">0.0%</div>
<div class="t " style="left:18.0px;top:310.2px;width:140.0px;height:13.5px;line-height:13.5px;font-size:9.1px;text-align:left;transform:scaleX(0.9);transform-origin:left center">Miscellaneous</div>
<div class="t c" style="left:162.0px;top:309.5px;width:53.0px;height:13.5px;line-height:13.5px;font-size:10px;transform:scaleX(0.94);transform-origin:center center">$200</div>
<div class="t c" style="left:214.0px;top:309.5px;width:41.0px;height:13.5px;line-height:13.5px;font-size:10px;transform:scaleX(0.85);transform-origin:center center">1.9%</div>
<div class="t c" style="left:270.0px;top:309.5px;width:56.0px;height:13.5px;line-height:13.5px;font-size:10px;transform:scaleX(0.94);transform-origin:center center">$0</div>
<div class="t c" style="left:326.0px;top:309.5px;width:42.0px;height:13.5px;line-height:13.5px;font-size:10px;transform:scaleX(0.85);transform-origin:center center">0.0%</div>
<div class="t c" style="left:368.0px;top:309.5px;width:53.0px;height:13.5px;line-height:13.5px;font-size:10px;color:#d8231f;transform:scaleX(0.94);transform-origin:center center">($200)</div>
<div class="t " style="left:421.0px;top:309.5px;width:41.0px;height:13.5px;line-height:13.5px;font-size:10px;text-align:right;transform:scaleX(0.85);transform-origin:right center">0.0%</div>
<svg class="a" style="left:155.0px;top:309.7px" width="5" height="5"><polygon points="0,0 5,0 5,5" fill="#d21a2a"/></svg>
<div style="left:13.0px;top:321.6px;width:148.0px;height:15.0px;background:#c5d9f1;border:2px solid #000;box-sizing:border-box"></div>
<div class="t c" style="left:30.0px;top:322.6px;width:140.0px;height:13.5px;line-height:13.5px;font-size:11.2px;font-weight:bold">Subtotal</div>
<div style="left:159.0px;top:321.6px;width:55.0px;height:15.0px;background:#fff;border:2px solid #000;box-sizing:border-box"></div>
<div class="t c" style="left:160.0px;top:322.6px;width:53.0px;height:13.5px;line-height:13.5px;font-size:10.2px;font-weight:bold;letter-spacing:0.35px;color:#000">$10,650</div>
<div style="left:212.0px;top:321.6px;width:43.0px;height:15.0px;background:#fff;border:2px solid #000;box-sizing:border-box"></div>
<div class="t c" style="left:213.0px;top:322.6px;width:41.0px;height:13.5px;line-height:13.5px;font-size:10.2px;font-weight:bold;letter-spacing:0.35px;color:#000">100.0%</div>
<div style="left:269.0px;top:321.6px;width:58.0px;height:15.0px;background:#fff;border:2px solid #000;box-sizing:border-box"></div>
<div class="t c" style="left:270.0px;top:322.6px;width:56.0px;height:13.5px;line-height:13.5px;font-size:10.2px;font-weight:bold;letter-spacing:0.35px;color:#000">$0</div>
<div style="left:325.0px;top:321.6px;width:44.0px;height:15.0px;background:#fff;border:2px solid #000;box-sizing:border-box"></div>
<div class="t c" style="left:326.0px;top:322.6px;width:42.0px;height:13.5px;line-height:13.5px;font-size:10.2px;font-weight:bold;letter-spacing:0.35px;color:#000">0.0%</div>
<div style="left:367.0px;top:321.6px;width:55.0px;height:15.0px;background:#fff;border:2px solid #000;box-sizing:border-box"></div>
<div class="t c" style="left:368.0px;top:322.6px;width:53.0px;height:13.5px;line-height:13.5px;font-size:10.2px;font-weight:bold;letter-spacing:0.35px;color:#000">-$10,650</div>
<div class="t " style="left:18.0px;top:350.0px;width:140.0px;height:13.5px;line-height:13.5px;font-size:11.1px;font-weight:bold;text-align:left;-webkit-text-stroke:.35px #000">One-Time Costs</div>
<div class="t " style="left:161.5px;top:349.7px;width:52.5px;height:13.5px;line-height:13.5px;font-size:8.4px;font-weight:bold;overflow:hidden;white-space:nowrap;letter-spacing:.75px;text-align:left">nstructions</div>
<svg class="a" style="left:207.0px;top:349.2px" width="6" height="6"><polygon points="0,0 6,0 6,6" fill="#d21a2a"/></svg>
<div style="left:160.0px;top:362.0px;width:2.0px;height:150.0px;background:#1fa463"></div>
<div style="left:212.0px;top:362.0px;width:2.0px;height:150.0px;background:#1fa463"></div>
<div style="left:160.0px;top:362.0px;width:54.0px;height:2.0px;background:#1fa463"></div>
<div style="left:160.0px;top:375.0px;width:54.0px;height:2.0px;background:#1fa463"></div>
<div style="left:160.0px;top:389.0px;width:54.0px;height:2.0px;background:#1fa463"></div>
<div style="left:160.0px;top:402.0px;width:54.0px;height:2.0px;background:#1fa463"></div>
<div style="left:160.0px;top:416.0px;width:54.0px;height:2.0px;background:#1fa463"></div>
<div style="left:160.0px;top:429.0px;width:54.0px;height:2.0px;background:#1fa463"></div>
<div style="left:160.0px;top:443.0px;width:54.0px;height:2.0px;background:#1fa463"></div>
<div style="left:160.0px;top:456.0px;width:54.0px;height:2.0px;background:#1fa463"></div>
<div style="left:160.0px;top:470.0px;width:54.0px;height:2.0px;background:#1fa463"></div>
<div style="left:160.0px;top:483.0px;width:54.0px;height:2.0px;background:#1fa463"></div>
<div style="left:160.0px;top:497.0px;width:54.0px;height:2.0px;background:#1fa463"></div>
<div style="left:160.0px;top:510.0px;width:54.0px;height:2.0px;background:#1fa463"></div>
<div style="left:270.0px;top:362.0px;width:2.0px;height:150.0px;background:#1fa463"></div>
<div style="left:325.0px;top:362.0px;width:2.0px;height:150.0px;background:#1fa463"></div>
<div style="left:270.0px;top:362.0px;width:57.0px;height:2.0px;background:#1fa463"></div>
<div style="left:270.0px;top:375.0px;width:57.0px;height:2.0px;background:#1fa463"></div>
<div style="left:270.0px;top:389.0px;width:57.0px;height:2.0px;background:#1fa463"></div>
<div style="left:270.0px;top:402.0px;width:57.0px;height:2.0px;background:#1fa463"></div>
<div style="left:270.0px;top:416.0px;width:57.0px;height:2.0px;background:#1fa463"></div>
<div style="left:270.0px;top:429.0px;width:57.0px;height:2.0px;background:#1fa463"></div>
<div style="left:270.0px;top:443.0px;width:57.0px;height:2.0px;background:#1fa463"></div>
<div style="left:270.0px;top:456.0px;width:57.0px;height:2.0px;background:#1fa463"></div>
<div style="left:270.0px;top:470.0px;width:57.0px;height:2.0px;background:#1fa463"></div>
<div style="left:270.0px;top:483.0px;width:57.0px;height:2.0px;background:#1fa463"></div>
<div style="left:270.0px;top:497.0px;width:57.0px;height:2.0px;background:#1fa463"></div>
<div style="left:270.0px;top:510.0px;width:57.0px;height:2.0px;background:#1fa463"></div>
<div class="t " style="left:18.0px;top:364.2px;width:140.0px;height:13.5px;line-height:13.5px;font-size:9.1px;text-align:left;transform:scaleX(0.9);transform-origin:left center">Equipment</div>
<div class="t " style="left:160.0px;top:364.2px;width:48.0px;height:13.5px;line-height:13.5px;font-size:9px;text-align:right;transform:scaleX(0.92);transform-origin:right center">$10,000</div>
<div class="t " style="left:213.0px;top:364.2px;width:40.0px;height:13.5px;line-height:13.5px;font-size:8.6px;text-align:right;transform:scaleX(0.93);transform-origin:right center">49.8%</div>
<div class="t c" style="left:270.0px;top:364.2px;width:56.0px;height:13.5px;line-height:13.5px;font-size:9px">$0</div>
<div class="t " style="left:326.0px;top:364.2px;width:41.0px;height:13.5px;line-height:13.5px;font-size:8.6px;text-align:right;transform:scaleX(0.93);transform-origin:right center">0.0%</div>
<div class="t " style="left:368.0px;top:364.2px;width:52.0px;height:13.5px;line-height:13.5px;font-size:8.8px;text-align:right;color:#d8231f">(10,000.00)</div>
<div class="t " style="left:421.0px;top:364.2px;width:41.0px;height:13.5px;line-height:13.5px;font-size:10px;text-align:right;transform:scaleX(0.85);transform-origin:right center">0.0%</div>
<div class="t " style="left:18.0px;top:377.7px;width:140.0px;height:13.5px;line-height:13.5px;font-size:9.1px;text-align:left;transform:scaleX(0.9);transform-origin:left center">Van</div>
<div class="t " style="left:160.0px;top:377.7px;width:48.0px;height:13.5px;line-height:13.5px;font-size:9px;text-align:right;transform:scaleX(0.92);transform-origin:right center">$6,000</div>
<div class="t " style="left:213.0px;top:377.7px;width:40.0px;height:13.5px;line-height:13.5px;font-size:8.6px;text-align:right;transform:scaleX(0.93);transform-origin:right center">29.9%</div>
<div class="t c" style="left:270.0px;top:377.7px;width:56.0px;height:13.5px;line-height:13.5px;font-size:9px">$0</div>
<div class="t " style="left:326.0px;top:377.7px;width:41.0px;height:13.5px;line-height:13.5px;font-size:8.6px;text-align:right;transform:scaleX(0.93);transform-origin:right center">0.0%</div>
<div class="t " style="left:368.0px;top:377.7px;width:52.0px;height:13.5px;line-height:13.5px;font-size:8.8px;text-align:right;color:#d8231f">(6,000.00)</div>
<div class="t " style="left:421.0px;top:377.7px;width:41.0px;height:13.5px;line-height:13.5px;font-size:10px;text-align:right;transform:scaleX(0.85);transform-origin:right center">0.0%</div>
<div class="t " style="left:18.0px;top:391.2px;width:140.0px;height:13.5px;line-height:13.5px;font-size:9.1px;text-align:left;transform:scaleX(0.9);transform-origin:left center">Supplies</div>
<div class="t " style="left:160.0px;top:391.2px;width:48.0px;height:13.5px;line-height:13.5px;font-size:9px;text-align:right;transform:scaleX(0.92);transform-origin:right center">$1,000</div>
<div class="t " style="left:213.0px;top:391.2px;width:40.0px;height:13.5px;line-height:13.5px;font-size:8.6px;text-align:right;transform:scaleX(0.93);transform-origin:right center">5.0%</div>
<div class="t c" style="left:270.0px;top:391.2px;width:56.0px;height:13.5px;line-height:13.5px;font-size:9px">$0</div>
<div class="t " style="left:326.0px;top:391.2px;width:41.0px;height:13.5px;line-height:13.5px;font-size:8.6px;text-align:right;transform:scaleX(0.93);transform-origin:right center">0.0%</div>
<div class="t " style="left:368.0px;top:391.2px;width:52.0px;height:13.5px;line-height:13.5px;font-size:8.8px;text-align:right;color:#d8231f">(1,000.00)</div>
<div class="t " style="left:421.0px;top:391.2px;width:41.0px;height:13.5px;line-height:13.5px;font-size:10px;text-align:right;transform:scaleX(0.85);transform-origin:right center">0.0%</div>
<div class="t " style="left:18.0px;top:404.7px;width:140.0px;height:13.5px;line-height:13.5px;font-size:9.1px;text-align:left;transform:scaleX(0.9);transform-origin:left center">Installation charges</div>
<div class="t " style="left:160.0px;top:404.7px;width:48.0px;height:13.5px;line-height:13.5px;font-size:9px;text-align:right;transform:scaleX(0.92);transform-origin:right center">$500</div>
<div class="t " style="left:213.0px;top:404.7px;width:40.0px;height:13.5px;line-height:13.5px;font-size:8.6px;text-align:right;transform:scaleX(0.93);transform-origin:right center">2.5%</div>
<div class="t c" style="left:270.0px;top:404.7px;width:56.0px;height:13.5px;line-height:13.5px;font-size:9px">$0</div>
<div class="t " style="left:326.0px;top:404.7px;width:41.0px;height:13.5px;line-height:13.5px;font-size:8.6px;text-align:right;transform:scaleX(0.93);transform-origin:right center">0.0%</div>
<div class="t " style="left:368.0px;top:404.7px;width:52.0px;height:13.5px;line-height:13.5px;font-size:8.8px;text-align:right;color:#d8231f">(500.00)</div>
<div class="t " style="left:421.0px;top:404.7px;width:41.0px;height:13.5px;line-height:13.5px;font-size:10px;text-align:right;transform:scaleX(0.85);transform-origin:right center">0.0%</div>
<div class="t " style="left:18.0px;top:418.2px;width:140.0px;height:13.5px;line-height:13.5px;font-size:9.1px;text-align:left;transform:scaleX(0.9);transform-origin:left center">Starting inventory</div>
<div class="t " style="left:160.0px;top:418.2px;width:48.0px;height:13.5px;line-height:13.5px;font-size:9px;text-align:right;transform:scaleX(0.92);transform-origin:right center">$480</div>
<div class="t " style="left:213.0px;top:418.2px;width:40.0px;height:13.5px;line-height:13.5px;font-size:8.6px;text-align:right;transform:scaleX(0.93);transform-origin:right center">2.4%</div>
<div class="t c" style="left:270.0px;top:418.2px;width:56.0px;height:13.5px;line-height:13.5px;font-size:9px">$0</div>
<div class="t " style="left:326.0px;top:418.2px;width:41.0px;height:13.5px;line-height:13.5px;font-size:8.6px;text-align:right;transform:scaleX(0.93);transform-origin:right center">0.0%</div>
<div class="t " style="left:368.0px;top:418.2px;width:52.0px;height:13.5px;line-height:13.5px;font-size:8.8px;text-align:right;color:#d8231f">(480.00)</div>
<div class="t " style="left:421.0px;top:418.2px;width:41.0px;height:13.5px;line-height:13.5px;font-size:10px;text-align:right;transform:scaleX(0.85);transform-origin:right center">0.0%</div>
<div class="t " style="left:18.0px;top:431.7px;width:140.0px;height:13.5px;line-height:13.5px;font-size:9.1px;text-align:left;transform:scaleX(0.9);transform-origin:left center">Deposits with public utilities</div>
<div class="t " style="left:160.0px;top:431.7px;width:48.0px;height:13.5px;line-height:13.5px;font-size:9px;text-align:right;transform:scaleX(0.92);transform-origin:right center">$0</div>
<div class="t " style="left:213.0px;top:431.7px;width:40.0px;height:13.5px;line-height:13.5px;font-size:8.6px;text-align:right;transform:scaleX(0.93);transform-origin:right center">0.0%</div>
<div class="t c" style="left:270.0px;top:431.7px;width:56.0px;height:13.5px;line-height:13.5px;font-size:9px">$0</div>
<div class="t " style="left:326.0px;top:431.7px;width:41.0px;height:13.5px;line-height:13.5px;font-size:8.6px;text-align:right;transform:scaleX(0.93);transform-origin:right center">0.0%</div>
<div class="t " style="left:368.0px;top:431.7px;width:52.0px;height:13.5px;line-height:13.5px;font-size:8.8px;text-align:right;color:#000;padding-right:6px;box-sizing:border-box">0.00</div>
<div class="t " style="left:421.0px;top:431.7px;width:41.0px;height:13.5px;line-height:13.5px;font-size:10px;text-align:right;transform:scaleX(0.85);transform-origin:right center">0.0%</div>
<div class="t " style="left:18.0px;top:445.2px;width:140.0px;height:13.5px;line-height:13.5px;font-size:9.1px;text-align:left;transform:scaleX(0.9);transform-origin:left center">Legal and other professional fees</div>
<div class="t " style="left:160.0px;top:445.2px;width:48.0px;height:13.5px;line-height:13.5px;font-size:9px;text-align:right;transform:scaleX(0.92);transform-origin:right center">$500</div>
<div class="t " style="left:213.0px;top:445.2px;width:40.0px;height:13.5px;line-height:13.5px;font-size:8.6px;text-align:right;transform:scaleX(0.93);transform-origin:right center">2.5%</div>
<div class="t c" style="left:270.0px;top:445.2px;width:56.0px;height:13.5px;line-height:13.5px;font-size:9px">$0</div>
<div class="t " style="left:326.0px;top:445.2px;width:41.0px;height:13.5px;line-height:13.5px;font-size:8.6px;text-align:right;transform:scaleX(0.93);transform-origin:right center">0.0%</div>
<div class="t " style="left:368.0px;top:445.2px;width:52.0px;height:13.5px;line-height:13.5px;font-size:8.8px;text-align:right;color:#d8231f">(500.00)</div>
<div class="t " style="left:421.0px;top:445.2px;width:41.0px;height:13.5px;line-height:13.5px;font-size:10px;text-align:right;transform:scaleX(0.85);transform-origin:right center">0.0%</div>
<div class="t " style="left:18.0px;top:458.7px;width:140.0px;height:13.5px;line-height:13.5px;font-size:9.1px;text-align:left;transform:scaleX(0.9);transform-origin:left center">Licenses and permits</div>
<div class="t " style="left:160.0px;top:458.7px;width:48.0px;height:13.5px;line-height:13.5px;font-size:9px;text-align:right;transform:scaleX(0.92);transform-origin:right center">$200</div>
<div class="t " style="left:213.0px;top:458.7px;width:40.0px;height:13.5px;line-height:13.5px;font-size:8.6px;text-align:right;transform:scaleX(0.93);transform-origin:right center">1.0%</div>
<div class="t c" style="left:270.0px;top:458.7px;width:56.0px;height:13.5px;line-height:13.5px;font-size:9px">$0</div>
<div class="t " style="left:326.0px;top:458.7px;width:41.0px;height:13.5px;line-height:13.5px;font-size:8.6px;text-align:right;transform:scaleX(0.93);transform-origin:right center">0.0%</div>
<div class="t " style="left:368.0px;top:458.7px;width:52.0px;height:13.5px;line-height:13.5px;font-size:8.8px;text-align:right;color:#d8231f">(200.00)</div>
<div class="t " style="left:421.0px;top:458.7px;width:41.0px;height:13.5px;line-height:13.5px;font-size:10px;text-align:right;transform:scaleX(0.85);transform-origin:right center">0.0%</div>
<div class="t " style="left:18.0px;top:472.2px;width:140.0px;height:13.5px;line-height:13.5px;font-size:9.1px;text-align:left;transform:scaleX(0.9);transform-origin:left center">Advertising and promotion</div>
<div class="t " style="left:160.0px;top:472.2px;width:48.0px;height:13.5px;line-height:13.5px;font-size:9px;text-align:right;transform:scaleX(0.92);transform-origin:right center">$500</div>
<div class="t " style="left:213.0px;top:472.2px;width:40.0px;height:13.5px;line-height:13.5px;font-size:8.6px;text-align:right;transform:scaleX(0.93);transform-origin:right center">2.5%</div>
<div class="t c" style="left:270.0px;top:472.2px;width:56.0px;height:13.5px;line-height:13.5px;font-size:9px">$0</div>
<div class="t " style="left:326.0px;top:472.2px;width:41.0px;height:13.5px;line-height:13.5px;font-size:8.6px;text-align:right;transform:scaleX(0.93);transform-origin:right center">0.0%</div>
<div class="t " style="left:368.0px;top:472.2px;width:52.0px;height:13.5px;line-height:13.5px;font-size:8.8px;text-align:right;color:#d8231f">(500.00)</div>
<div class="t " style="left:421.0px;top:472.2px;width:41.0px;height:13.5px;line-height:13.5px;font-size:10px;text-align:right;transform:scaleX(0.85);transform-origin:right center">0.0%</div>
<div class="t " style="left:18.0px;top:485.7px;width:140.0px;height:13.5px;line-height:13.5px;font-size:9.1px;text-align:left;transform:scaleX(0.9);transform-origin:left center">Cash</div>
<div class="t " style="left:160.0px;top:485.7px;width:48.0px;height:13.5px;line-height:13.5px;font-size:9px;text-align:right;transform:scaleX(0.92);transform-origin:right center">$300</div>
<div class="t " style="left:213.0px;top:485.7px;width:40.0px;height:13.5px;line-height:13.5px;font-size:8.6px;text-align:right;transform:scaleX(0.93);transform-origin:right center">1.5%</div>
<div class="t c" style="left:270.0px;top:485.7px;width:56.0px;height:13.5px;line-height:13.5px;font-size:9px">$0</div>
<div class="t " style="left:326.0px;top:485.7px;width:41.0px;height:13.5px;line-height:13.5px;font-size:8.6px;text-align:right;transform:scaleX(0.93);transform-origin:right center">0.0%</div>
<div class="t " style="left:368.0px;top:485.7px;width:52.0px;height:13.5px;line-height:13.5px;font-size:8.8px;text-align:right;color:#d8231f">(300.00)</div>
<div class="t " style="left:421.0px;top:485.7px;width:41.0px;height:13.5px;line-height:13.5px;font-size:10px;text-align:right;transform:scaleX(0.85);transform-origin:right center">0.0%</div>
<div class="t " style="left:18.0px;top:499.2px;width:140.0px;height:13.5px;line-height:13.5px;font-size:9.1px;text-align:left;transform:scaleX(0.9);transform-origin:left center">Other</div>
<div class="t " style="left:160.0px;top:499.2px;width:48.0px;height:13.5px;line-height:13.5px;font-size:9px;text-align:right;transform:scaleX(0.92);transform-origin:right center">$600</div>
<div class="t " style="left:213.0px;top:499.2px;width:40.0px;height:13.5px;line-height:13.5px;font-size:8.6px;text-align:right;transform:scaleX(0.93);transform-origin:right center">3.0%</div>
<div class="t c" style="left:270.0px;top:499.2px;width:56.0px;height:13.5px;line-height:13.5px;font-size:9px">$0</div>
<div class="t " style="left:326.0px;top:499.2px;width:41.0px;height:13.5px;line-height:13.5px;font-size:8.6px;text-align:right;transform:scaleX(0.93);transform-origin:right center">0.0%</div>
<div class="t " style="left:368.0px;top:499.2px;width:52.0px;height:13.5px;line-height:13.5px;font-size:8.8px;text-align:right;color:#d8231f">(600.00)</div>
<div class="t " style="left:421.0px;top:499.2px;width:41.0px;height:13.5px;line-height:13.5px;font-size:10px;text-align:right;transform:scaleX(0.85);transform-origin:right center">0.0%</div>
<svg class="a" style="left:155.0px;top:498.7px" width="5" height="5"><polygon points="0,0 5,0 5,5" fill="#d21a2a"/></svg>
<div style="left:13.0px;top:510.2px;width:148.0px;height:15.0px;background:#c5d9f1;border:2px solid #000;box-sizing:border-box"></div>
<div class="t c" style="left:32.0px;top:512.0px;width:140.0px;height:13.5px;line-height:13.5px;font-size:11.2px;font-weight:bold">Subtotal</div>
<div style="left:159.0px;top:510.2px;width:55.0px;height:15.0px;background:#c5d9f1;border:2px solid #000;box-sizing:border-box"></div>
<div class="t c" style="left:160.0px;top:511.2px;width:53.0px;height:13.5px;line-height:13.5px;font-size:9.4px;font-weight:bold;letter-spacing:0.2px;color:#000">$20,080</div>
<div style="left:212.0px;top:510.2px;width:43.0px;height:15.0px;background:#c5d9f1;border:2px solid #000;box-sizing:border-box"></div>
<div class="t " style="left:213.0px;top:511.2px;width:38.0px;height:13.5px;line-height:13.5px;font-size:9.4px;font-weight:bold;letter-spacing:0.2px;text-align:right;color:#000">100.0%</div>
<div style="left:269.0px;top:510.2px;width:58.0px;height:15.0px;background:#c5d9f1;border:2px solid #000;box-sizing:border-box"></div>
<div class="t c" style="left:270.0px;top:511.2px;width:56.0px;height:13.5px;line-height:13.5px;font-size:9.4px;font-weight:bold;letter-spacing:0.2px;color:#000">$0</div>
<div style="left:325.0px;top:510.2px;width:44.0px;height:15.0px;background:#c5d9f1;border:2px solid #000;box-sizing:border-box"></div>
<div class="t " style="left:326.0px;top:511.2px;width:39.0px;height:13.5px;line-height:13.5px;font-size:9.4px;font-weight:bold;letter-spacing:0.2px;text-align:right;color:#000">0.0%</div>
<div style="left:367.0px;top:510.2px;width:55.0px;height:15.0px;background:#c5d9f1;border:2px solid #000;box-sizing:border-box"></div>
<div class="t c" style="left:368.0px;top:511.2px;width:53.0px;height:13.5px;line-height:13.5px;font-size:9.4px;font-weight:bold;letter-spacing:0.2px;-webkit-text-stroke:1.1px #d8231f;letter-spacing:1.9px;color:#d8231f">######</div>
<div style="left:13.0px;top:550.3px;width:148.0px;height:14.5px;background:#c5d9f1;border:2px solid #000;box-sizing:border-box"></div>
<div class="t c" style="left:33.0px;top:551.3px;width:140.0px;height:13.5px;line-height:13.5px;font-size:11.2px;font-weight:bold">Totals</div>
<div style="left:159.0px;top:550.3px;width:55.0px;height:14.5px;background:#c5d9f1;border:2px solid #000;box-sizing:border-box"></div>
<div class="t c" style="left:162.0px;top:551.3px;width:53.0px;height:13.5px;line-height:13.5px;font-size:9.4px;font-weight:bold;letter-spacing:.45px;color:#000">$30,730</div>
<div style="left:212.0px;top:550.3px;width:43.0px;height:14.5px;background:#c5d9f1;border:2px solid #000;box-sizing:border-box"></div>
<div class="t c" style="left:215.0px;top:551.3px;width:41.0px;height:13.5px;line-height:13.5px;font-size:9.4px;font-weight:bold;letter-spacing:.45px;color:#000">100%</div>
<div style="left:269.0px;top:550.3px;width:58.0px;height:14.5px;background:#c5d9f1;border:2px solid #000;box-sizing:border-box"></div>
<div class="t c" style="left:272.0px;top:551.3px;width:56.0px;height:13.5px;line-height:13.5px;font-size:9.4px;font-weight:bold;letter-spacing:.45px;color:#000">$46,910</div>
<div style="left:325.0px;top:550.3px;width:44.0px;height:14.5px;background:#c5d9f1;border:2px solid #000;box-sizing:border-box"></div>
<div class="t c" style="left:328.0px;top:551.3px;width:42.0px;height:13.5px;line-height:13.5px;font-size:9.4px;font-weight:bold;letter-spacing:.45px;color:#000"></div>
<div style="left:367.0px;top:550.3px;width:55.0px;height:14.5px;background:#c5d9f1;border:2px solid #000;box-sizing:border-box"></div>
<div class="t c" style="left:370.0px;top:551.3px;width:53.0px;height:13.5px;line-height:13.5px;font-size:9.4px;font-weight:bold;letter-spacing:.45px;color:#d8231f">($3,160)</div>
<div style="left:254.5px;top:550.3px;width:15.5px;height:14.5px;background:#c5d9f1;border-top:2px solid #000;border-bottom:2px solid #000;box-sizing:border-box"></div>
<div style="left:462.0px;top:132.0px;width:44.5px;height:16.0px;border:2px solid #2b6a4d;box-sizing:border-box"></div>
<div style="left:501.5px;top:144.0px;width:5.0px;height:5.0px;background:#2b6a4d;border:1px solid #fff;box-sizing:content-box"></div>
<svg style="left:560px;top:36px" width="60" height="64" viewBox="560 36 60 64">
<defs><radialGradient id="hd" cx=".4" cy=".35" r=".75"><stop offset="0" stop-color="#2478dc"/><stop offset="1" stop-color="#0845a3"/></radialGradient>
<linearGradient id="bd" x1="0" y1="0" x2="1" y2="0"><stop offset="0" stop-color="#0a47a6"/><stop offset=".5" stop-color="#1763c8"/><stop offset="1" stop-color="#0a47a6"/></linearGradient></defs>
<g opacity=".35" fill="#7fb0ea"><ellipse cx="574" cy="90.5" rx="3.2" ry="3"/><ellipse cx="584.5" cy="90" rx="3.5" ry="2.6"/><ellipse cx="601" cy="94" rx="4.5" ry="1.6"/></g>
<circle cx="581.4" cy="45.4" r="7.1" fill="url(#hd)"/>
<path d="M580 51.5 L583 51.5 L583.2 54.6 L585.6 55.4 L586.4 60.5 L585 67.5 L575 67.5 L574.4 61 L575.6 55.2 L580 54.4 Z" fill="url(#bd)"/>
<path d="M576 55.5 L571 58 L574.6 62.4" fill="none" stroke="#0c4dad" stroke-width="2.4" stroke-linecap="round" stroke-linejoin="round"/>
<path d="M584.8 56 L586.2 62.5 L584.4 68" fill="none" stroke="#0c4dad" stroke-width="2.4" stroke-linecap="round" stroke-linejoin="round"/>
<path d="M576.6 67 L575 76 L573.6 84.6" fill="none" stroke="#0d52b6" stroke-width="3.2" stroke-linecap="round" stroke-linejoin="round"/>
<path d="M583.2 67 L583 76 L584 83.6" fill="none" stroke="#0d52b6" stroke-width="3.2" stroke-linecap="round" stroke-linejoin="round"/>
<path d="M570.6 85.4 L575 85.6" fill="none" stroke="#0d52b4" stroke-width="2.2" stroke-linecap="round"/>
<path d="M583.6 84.8 L588.4 85.4" fill="none" stroke="#0d52b4" stroke-width="2.2" stroke-linecap="round"/>
<path d="M582.4 67.4 L600.4 88.2" fill="none" stroke="#0a479f" stroke-width="2.1" stroke-linecap="round"/>
<path d="M598 86 L607.2 89.6 L604 91.8 L598.8 92.6 Z" fill="#0c4aa6"/>
</svg>
<div style="left:641.0px;top:46.6px;width:303.0px;height:56.0px;background:#fff;border:1px solid #1f2f5f;box-sizing:border-box"></div>
<div class="t" style="left:647px;top:50.3px;width:300px;height:50px;line-height:12.35px;font-size:10.2px;font-weight:bold;text-align:left;letter-spacing:.13px;white-space:nowrap">When you start a new business, it is always best to count<br>all of the costs in advance.<br>One tank of gas will not allow you to drive all over town<br>for the next month.</div>
<div style="left:588.8px;top:120.3px;width:374.2px;height:12.5px;background:#fff"></div>
<div style="left:548.0px;top:141.0px;width:236.0px;height:18.5px;background:#fff"></div>
<div style="left:800.0px;top:141.0px;width:246.0px;height:18.5px;background:#fff"></div>
<div class="t " style="left:592.0px;top:119.5px;width:371.0px;height:14.0px;line-height:14.0px;font-size:9.8px;font-weight:bold;text-align:left;white-space:nowrap;letter-spacing:.56px;overflow:hidden">Charts are automatically created when you update, or fill in the dollar a</div>
<div class="t " style="left:551.0px;top:142.5px;width:240.0px;height:14.0px;line-height:14.0px;font-size:9.9px;text-align:left;white-space:nowrap;-webkit-text-stroke:.25px #000">Anticipated monthly costs to operate the businesses</div>
<div class="t " style="left:844.0px;top:142.5px;width:200.0px;height:14.0px;line-height:14.0px;font-size:9.85px;text-align:left;white-space:nowrap;-webkit-text-stroke:.25px #000">Estimated one-time, or start-up costs.</div>
<svg style="left:540px;top:160px" width="250" height="423" viewBox="540 160 250 423">
<rect x="555.5" y="165.5" width="227.5" height="430" fill="#fff" stroke="#8a8a8a" stroke-width="1.4"/>
<polygon points="671.4,353.1 661.3,316.4 661.3,332.4 671.4,369.1" fill="#636b56"/>
<linearGradient id="t140454077646912" gradientUnits="userSpaceOnUse" x1="671.4" y1="316.1" x2="661.3" y2="353.1"><stop offset="0" stop-color="#cbdab4"/><stop offset="1" stop-color="#b2c09a"/></linearGradient>
<polygon points="671.4,353.1 661.3,316.4 666.3,316.2 671.4,316.1" fill="url(#t140454077646912)" stroke="#a8b592" stroke-width=".4"/>
<polygon points="669.7,353.2 654.0,316.9 654.0,332.9 669.7,369.2" fill="#555d6b"/>
<linearGradient id="t140454077647040" gradientUnits="userSpaceOnUse" x1="669.7" y1="316.5" x2="654.0" y2="353.2"><stop offset="0" stop-color="#b2c0db"/><stop offset="1" stop-color="#99a7c1"/></linearGradient>
<polygon points="669.7,353.2 654.0,316.9 659.7,316.5" fill="url(#t140454077647040)" stroke="#909eb6" stroke-width=".4"/>
<polygon points="666.2,353.8 622.9,322.0 622.9,338.0 666.2,369.8" fill="#235562"/>
<linearGradient id="t140454077647168" gradientUnits="userSpaceOnUse" x1="666.2" y1="317.4" x2="622.9" y2="353.8"><stop offset="0" stop-color="#58b2ca"/><stop offset="1" stop-color="#3f99b1"/></linearGradient>
<polygon points="666.2,353.8 622.9,322.0 627.2,321.0 631.6,320.0 636.2,319.2 640.8,318.5 645.6,317.9 650.4,317.4" fill="url(#t140454077647168)" stroke="#3b90a7" stroke-width=".4"/>
<polygon points="662.7,354.8 613.3,324.8 613.3,340.8 662.7,370.8" fill="#3e3050"/>
<linearGradient id="t140454077647488" gradientUnits="userSpaceOnUse" x1="662.7" y1="323.0" x2="613.3" y2="354.8"><stop offset="0" stop-color="#8a6fa9"/><stop offset="1" stop-color="#705690"/></linearGradient>
<polygon points="662.7,354.8 613.3,324.8 619.5,323.0" fill="url(#t140454077647488)" stroke="#6a5188" stroke-width=".4"/>
<polygon points="661.9,355.1 610.4,325.9 610.4,341.9 661.9,371.1" fill="#4c5c2a"/>
<linearGradient id="t140454077647232" gradientUnits="userSpaceOnUse" x1="661.9" y1="325.2" x2="610.4" y2="355.1"><stop offset="0" stop-color="#a2c065"/><stop offset="1" stop-color="#88a64b"/></linearGradient>
<polygon points="661.9,355.1 610.4,325.9 612.5,325.2" fill="url(#t140454077647232)" stroke="#819d47" stroke-width=".4"/>
<polygon points="661.3,355.4 606.1,327.5 606.1,343.5 661.3,371.4" fill="#5f2524"/>
<linearGradient id="t140454077647296" gradientUnits="userSpaceOnUse" x1="661.3" y1="326.2" x2="606.1" y2="355.4"><stop offset="0" stop-color="#c45d5a"/><stop offset="1" stop-color="#ab4340"/></linearGradient>
<polygon points="661.3,355.4 606.1,327.5 609.8,326.2" fill="url(#t140454077647296)" stroke="#a13f3d" stroke-width=".4"/>
<polygon points="659.8,356.2 594.3,333.0 594.3,349.0 659.8,372.2" fill="#253f5d"/>
<linearGradient id="t140454077647360" gradientUnits="userSpaceOnUse" x1="659.8" y1="328.3" x2="594.3" y2="356.2"><stop offset="0" stop-color="#5c8ac1"/><stop offset="1" stop-color="#4271a8"/></linearGradient>
<polygon points="659.8,356.2 594.3,333.0 597.5,331.3 601.0,329.8 604.6,328.3" fill="url(#t140454077647360)" stroke="#3e6b9e" stroke-width=".4"/>
<polygon points="657.9,357.5 584.8,339.3 584.8,355.3 657.9,373.5" fill="#6d421e"/>
<linearGradient id="t140454077647424" gradientUnits="userSpaceOnUse" x1="657.9" y1="334.3" x2="584.8" y2="357.5"><stop offset="0" stop-color="#de9050"/><stop offset="1" stop-color="#c57636"/></linearGradient>
<polygon points="657.9,357.5 584.8,339.3 587.1,337.6 589.7,335.9 592.5,334.3" fill="url(#t140454077647424)" stroke="#ba7033" stroke-width=".4"/>
<polygon points="656.4,359.1 576.3,347.9 576.3,363.9 656.4,375.1" fill="#204c57"/>
<linearGradient id="t140454077647552" gradientUnits="userSpaceOnUse" x1="656.4" y1="340.9" x2="576.3" y2="359.1"><stop offset="0" stop-color="#54a2b7"/><stop offset="1" stop-color="#3a889d"/></linearGradient>
<polygon points="656.4,359.1 576.3,347.9 578.2,345.5 580.5,343.2 583.2,340.9" fill="url(#t140454077647552)" stroke="#378194" stroke-width=".4"/>
<polygon points="652.9,362.6 568.9,362.2 568.9,378.2 652.9,378.6" fill="#382c47"/>
<linearGradient id="t140454077647616" gradientUnits="userSpaceOnUse" x1="652.9" y1="351.4" x2="568.9" y2="362.6"><stop offset="0" stop-color="#7f689a"/><stop offset="1" stop-color="#654f80"/></linearGradient>
<polygon points="652.9,362.6 568.9,362.2 569.1,360.0 569.6,357.8 570.4,355.7 571.5,353.5 572.8,351.4" fill="url(#t140454077647616)" stroke="#604a79" stroke-width=".4"/>
<polygon points="653.4,362.6 569.4,362.2 569.4,368.7 653.4,369.1" fill="#445227"/>
<polygon points="653.4,362.6 569.4,362.2 569.4,368.7 653.4,369.1" fill="#445227"/>
<linearGradient id="w140454077681344" gradientUnits="userSpaceOnUse" x1="608.0" y1="0" x2="780.0" y2="0"><stop offset="0" stop-color="#345884"/><stop offset=".5" stop-color="#284466"/><stop offset="1" stop-color="#1b2e45"/></linearGradient>
<polygon points="780.0,364.6 779.9,366.9 779.5,369.3 778.9,371.6 778.1,373.9 777.0,376.2 775.6,378.4 774.1,380.6 772.3,382.8 770.3,384.9 768.1,386.9 765.7,388.9 763.0,390.8 760.2,392.7 757.2,394.4 754.0,396.1 750.6,397.7 747.1,399.2 743.4,400.6 739.6,401.9 735.7,403.1 731.6,404.2 727.4,405.1 723.2,406.0 718.8,406.7 714.4,407.3 709.9,407.8 705.4,408.2 700.9,408.5 696.3,408.6 691.7,408.6 687.1,408.5 682.6,408.2 678.1,407.8 673.6,407.3 669.2,406.7 664.8,406.0 660.6,405.1 660.6,425.1 664.8,426.0 669.2,426.7 673.6,427.3 678.1,427.8 682.6,428.2 687.1,428.5 691.7,428.6 696.3,428.6 700.9,428.5 705.4,428.2 709.9,427.8 714.4,427.3 718.8,426.7 723.2,426.0 727.4,425.1 731.6,424.2 735.7,423.1 739.6,421.9 743.4,420.6 747.1,419.2 750.6,417.7 754.0,416.1 757.2,414.4 760.2,412.7 763.0,410.8 765.7,408.9 768.1,406.9 770.3,404.9 772.3,402.8 774.1,400.6 775.6,398.4 777.0,396.2 778.1,393.9 778.9,391.6 779.5,389.3 779.9,386.9 780.0,384.6" fill="url(#w140454077681344)"/>
<linearGradient id="t140454077681344" gradientUnits="userSpaceOnUse" x1="780.0" y1="327.6" x2="660.6" y2="408.6"><stop offset="0" stop-color="#547cae"/><stop offset="1" stop-color="#3a6394"/></linearGradient>
<polygon points="694.0,364.6 694.0,327.6 698.5,327.7 703.1,327.8 707.6,328.1 712.0,328.4 716.5,328.9 720.8,329.4 725.1,330.1 729.3,330.9 733.4,331.7 737.4,332.6 741.2,333.7 745.0,334.8 748.5,336.0 752.0,337.3 755.3,338.6 758.4,340.1 761.3,341.6 764.0,343.1 766.6,344.7 768.9,346.4 771.0,348.1 772.9,349.9 774.6,351.7 776.1,353.6 777.3,355.5 778.3,357.4 779.1,359.3 779.6,361.2 779.9,363.2 780.0,365.2 779.8,367.6 779.4,369.9 778.7,372.2 777.8,374.5 776.7,376.7 775.3,378.9 773.7,381.1 771.9,383.2 769.9,385.3 767.6,387.3 765.2,389.3 762.5,391.2 759.7,393.0 756.7,394.7 753.5,396.4 750.1,398.0 746.6,399.4 742.9,400.8 739.1,402.1 735.2,403.2 731.1,404.3 727.0,405.2 722.7,406.1 718.4,406.8 714.0,407.4 709.6,407.9 705.1,408.2 700.6,408.5 696.0,408.6 691.5,408.6 686.9,408.5 682.4,408.2 677.9,407.8 673.5,407.3 669.1,406.7 664.8,406.0 660.6,405.1" fill="url(#t140454077681344)" stroke="#375d8c" stroke-width=".4"/>
<polygon points="654.0,369.5 621.3,409.6 621.3,428.6 654.0,388.5" fill="#542120"/>
<linearGradient id="w140454077651648" gradientUnits="userSpaceOnUse" x1="570.0" y1="0" x2="738.0" y2="0"><stop offset="0" stop-color="#863533"/><stop offset=".5" stop-color="#682927"/><stop offset="1" stop-color="#461c1a"/></linearGradient>
<polygon points="621.3,409.6 617.3,408.6 613.3,407.6 609.4,406.4 605.7,405.1 602.1,403.7 598.7,402.2 595.4,400.7 592.3,399.0 589.3,397.3 586.6,395.4 584.0,393.5 581.6,391.6 579.5,389.6 577.5,387.5 575.8,385.3 574.3,383.2 573.0,380.9 571.9,378.7 571.1,376.4 570.5,374.1 570.1,371.8 570.0,369.5 570.0,388.5 570.1,390.8 570.5,393.1 571.1,395.4 571.9,397.7 573.0,399.9 574.3,402.2 575.8,404.3 577.5,406.5 579.5,408.6 581.6,410.6 584.0,412.5 586.6,414.4 589.3,416.3 592.3,418.0 595.4,419.7 598.7,421.2 602.1,422.7 605.7,424.1 609.4,425.4 613.3,426.6 617.3,427.6 621.3,428.6" fill="url(#w140454077651648)"/>
<linearGradient id="t140454077651648" gradientUnits="userSpaceOnUse" x1="654.0" y1="369.1" x2="570.0" y2="409.6"><stop offset="0" stop-color="#b05553"/><stop offset="1" stop-color="#973c39"/></linearGradient>
<polygon points="654.0,369.5 621.3,409.6 617.2,408.6 613.2,407.5 609.3,406.3 605.6,405.0 602.0,403.6 598.5,402.2 595.2,400.6 592.1,398.9 589.1,397.1 586.3,395.3 583.7,393.3 581.4,391.4 579.2,389.3 577.3,387.2 575.5,385.0 574.0,382.8 572.8,380.6 571.7,378.3 570.9,376.0 570.4,373.7 570.1,371.4 570.0,369.1" fill="url(#t140454077651648)" stroke="#8e3836" stroke-width=".4"/>
<text x="578.0" y="207.8" text-anchor="middle" font-size="7.8" font-weight="bold" fill="#111">Telephone</text>
<text x="578.0" y="218.8" text-anchor="middle" font-size="7.8" font-weight="bold" fill="#111">1%</text>
<text x="614.3" y="244.8" text-anchor="middle" font-size="7.8" font-weight="bold" fill="#111">Other</text>
<text x="614.3" y="255.8" text-anchor="middle" font-size="7.8" font-weight="bold" fill="#111">utilities</text>
<text x="614.3" y="266.8" text-anchor="middle" font-size="7.8" font-weight="bold" fill="#111">0%</text>
<text x="674.0" y="243.8" text-anchor="middle" font-size="7.8" font-weight="bold" fill="#111">Taxes,</text>
<text x="674.0" y="254.3" text-anchor="middle" font-size="7.8" font-weight="bold" fill="#111">including</text>
<text x="674.0" y="264.8" text-anchor="middle" font-size="7.8" font-weight="bold" fill="#111">social</text>
<text x="674.0" y="275.3" text-anchor="middle" font-size="7.8" font-weight="bold" fill="#111">security</text>
<text x="674.0" y="286.8" text-anchor="middle" font-size="7.8" font-weight="bold" fill="#111">6%</text>
<text x="718.0" y="254.8" text-anchor="middle" font-size="7.8" font-weight="bold" fill="#111">Maintenan</text>
<text x="718.0" y="265.8" text-anchor="middle" font-size="7.8" font-weight="bold" fill="#111">ce</text>
<text x="718.0" y="275.8" text-anchor="middle" font-size="7.8" font-weight="bold" fill="#111">1%</text>
<text x="578.0" y="273.8" text-anchor="middle" font-size="7.8" font-weight="bold" fill="#111">Equipment</text>
<text x="578.0" y="284.8" text-anchor="middle" font-size="7.8" font-weight="bold" fill="#111">3%</text>
<text x="631.0" y="296.8" text-anchor="middle" font-size="7.8" font-weight="bold" fill="#111">Insurance</text>
<text x="631.0" y="307.3" text-anchor="middle" font-size="7.8" font-weight="bold" fill="#111">1%</text>
<text x="722.0" y="294.8" text-anchor="middle" font-size="7.8" font-weight="bold" fill="#111">Miscellane</text>
<text x="722.0" y="305.3" text-anchor="middle" font-size="7.8" font-weight="bold" fill="#111">ous</text>
<text x="722.0" y="315.8" text-anchor="middle" font-size="7.8" font-weight="bold" fill="#111">2%</text>
<text x="574.0" y="299.8" text-anchor="middle" font-size="7.8" font-weight="bold" fill="#111">Supplies</text>
<text x="574.0" y="310.8" text-anchor="middle" font-size="7.8" font-weight="bold" fill="#111">3%</text>
<text x="577.0" y="325.8" text-anchor="middle" font-size="7.8" font-weight="bold" fill="#111">Chemicals</text>
<text x="577.0" y="336.8" text-anchor="middle" font-size="7.8" font-weight="bold" fill="#111">3%</text>
<text x="748.0" y="444.8" text-anchor="middle" font-size="7.8" font-weight="bold" fill="#111">Salary of</text>
<text x="748.0" y="455.8" text-anchor="middle" font-size="7.8" font-weight="bold" fill="#111">owner-</text>
<text x="748.0" y="466.3" text-anchor="middle" font-size="7.8" font-weight="bold" fill="#111">manager</text>
<text x="748.0" y="476.8" text-anchor="middle" font-size="7.8" font-weight="bold" fill="#111">56%</text>
<text x="605.0" y="458.3" text-anchor="middle" font-size="7.8" font-weight="bold" fill="#111">All other</text>
<text x="605.0" y="469.3" text-anchor="middle" font-size="7.8" font-weight="bold" fill="#111">salaries</text>
<text x="605.0" y="479.8" text-anchor="middle" font-size="7.8" font-weight="bold" fill="#111">and wages</text>
<text x="605.0" y="489.8" text-anchor="middle" font-size="7.8" font-weight="bold" fill="#111">19%</text>
<text x="577.0" y="506.8" text-anchor="middle" font-size="7.8" font-weight="bold" fill="#111">Advertisin</text>
<text x="577.0" y="517.8" text-anchor="middle" font-size="7.8" font-weight="bold" fill="#111">g</text>
<text x="577.0" y="527.3" text-anchor="middle" font-size="7.8" font-weight="bold" fill="#111">5%</text>
<text x="567.0" y="574.8" text-anchor="middle" font-size="7.8" font-weight="bold" fill="#111">Rent</text>
<text x="567.0" y="584.8" text-anchor="middle" font-size="7.8" font-weight="bold" fill="#111">0%</text>
<polyline points="584.0,216.5 589.0,218.0 608.0,324.0" fill="none" stroke="#111" stroke-width="1.3"/>
<polyline points="612.3,268.0 611.4,326.0" fill="none" stroke="#111" stroke-width="1.3"/>
<polyline points="625.0,305.0 621.6,305.0 616.4,322.0" fill="none" stroke="#111" stroke-width="1.3"/>
<polyline points="669.0,284.0 662.4,284.0 638.5,317.4" fill="none" stroke="#111" stroke-width="1.3"/>
<polyline points="713.7,275.0 710.5,276.0 661.0,316.0" fill="none" stroke="#111" stroke-width="1.3"/>
<polyline points="701.8,294.0 697.4,294.7 668.3,314.5" fill="none" stroke="#111" stroke-width="1.3"/>
<polyline points="585.0,282.0 591.6,283.5 600.6,326.5" fill="none" stroke="#111" stroke-width="1.3"/>
<polyline points="580.0,307.8 585.5,309.3 589.5,336.0" fill="none" stroke="#111" stroke-width="1.3"/>
<polyline points="581.0,334.5 586.0,334.5 592.0,342.0" fill="none" stroke="#111" stroke-width="1.3"/>
<polyline points="780.5,392.0 774.5,442.0 767.0,442.0" fill="none" stroke="#111" stroke-width="1.3"/>
<polyline points="585.0,412.0 585.0,455.0 589.0,455.0" fill="none" stroke="#111" stroke-width="1.3"/>
<polyline points="568.7,364.0 568.7,501.0" fill="none" stroke="#000" stroke-width="1.5"/>
<polyline points="570.3,364.0 570.3,567.0" fill="none" stroke="#000" stroke-width="1.5"/>
</svg>
<svg style="left:785px;top:160px" width="278" height="400" viewBox="785 160 278 400">
<rect x="791.5" y="166.5" width="300" height="384.5" fill="#fff" stroke="#8a8a8a" stroke-width="1.4"/>
<polygon points="929.6,329.2 913.1,287.4 913.1,303.4 929.6,345.2" fill="#3f606b"/>
<linearGradient id="t140454077644416" gradientUnits="userSpaceOnUse" x1="929.6" y1="286.6" x2="913.1" y2="329.2"><stop offset="0" stop-color="#8bc6da"/><stop offset="1" stop-color="#72acc0"/></linearGradient>
<polygon points="929.6,329.2 913.1,287.4 918.6,287.0 924.1,286.7 929.6,286.6" fill="url(#t140454077644416)" stroke="#6ba3b5" stroke-width=".4"/>
<polygon points="927.2,329.4 902.7,288.5 902.7,304.5 927.2,345.4" fill="#544d5e"/>
<linearGradient id="t140454077644736" gradientUnits="userSpaceOnUse" x1="927.2" y1="287.6" x2="902.7" y2="329.4"><stop offset="0" stop-color="#b1a5c3"/><stop offset="1" stop-color="#988baa"/></linearGradient>
<polygon points="927.2,329.4 902.7,288.5 910.8,287.6" fill="url(#t140454077644736)" stroke="#8f83a0" stroke-width=".4"/>
<polygon points="925.2,329.8 887.8,291.2 887.8,307.2 925.2,345.8" fill="#5c664b"/>
<linearGradient id="t140454077644480" gradientUnits="userSpaceOnUse" x1="925.2" y1="288.9" x2="887.8" y2="329.8"><stop offset="0" stop-color="#c0d2a0"/><stop offset="1" stop-color="#a6b887"/></linearGradient>
<polygon points="925.2,329.8 887.8,291.2 894.1,289.9 900.7,288.9" fill="url(#t140454077644480)" stroke="#9dae7f" stroke-width=".4"/>
<polygon points="923.5,330.2 881.1,292.8 881.1,308.8 923.5,346.2" fill="#684949"/>
<linearGradient id="t140454077644544" gradientUnits="userSpaceOnUse" x1="923.5" y1="291.6" x2="881.1" y2="330.2"><stop offset="0" stop-color="#d59d9c"/><stop offset="1" stop-color="#bc8483"/></linearGradient>
<polygon points="923.5,330.2 881.1,292.8 886.1,291.6" fill="url(#t140454077644544)" stroke="#b17c7c" stroke-width=".4"/>
<polygon points="921.9,330.7 868.0,297.0 868.0,313.0 921.9,346.7" fill="#495467"/>
<linearGradient id="t140454077644608" gradientUnits="userSpaceOnUse" x1="921.9" y1="293.3" x2="868.0" y2="330.7"><stop offset="0" stop-color="#9db1d3"/><stop offset="1" stop-color="#8498ba"/></linearGradient>
<polygon points="921.9,330.7 868.0,297.0 873.6,295.1 879.5,293.3" fill="url(#t140454077644608)" stroke="#7c8faf" stroke-width=".4"/>
<polygon points="919.8,331.5 856.1,302.1 856.1,318.1 919.8,347.5" fill="#204c57"/>
<linearGradient id="t140454077644864" gradientUnits="userSpaceOnUse" x1="919.8" y1="297.8" x2="856.1" y2="331.5"><stop offset="0" stop-color="#54a2b7"/><stop offset="1" stop-color="#3a889d"/></linearGradient>
<polygon points="919.8,331.5 856.1,302.1 860.8,299.9 865.9,297.8" fill="url(#t140454077644864)" stroke="#378194" stroke-width=".4"/>
<polygon points="918.0,332.5 845.6,308.3 845.6,324.3 918.0,348.5" fill="#382c47"/>
<linearGradient id="t140454077644928" gradientUnits="userSpaceOnUse" x1="918.0" y1="303.1" x2="845.6" y2="332.5"><stop offset="0" stop-color="#7f689a"/><stop offset="1" stop-color="#654f80"/></linearGradient>
<polygon points="918.0,332.5 845.6,308.3 849.7,305.6 854.3,303.1" fill="url(#t140454077644928)" stroke="#604a79" stroke-width=".4"/>
<polygon points="913.6,335.0 829.3,322.8 829.3,338.8 913.6,351.0" fill="#445227"/>
<linearGradient id="t140454077644992" gradientUnits="userSpaceOnUse" x1="913.6" y1="310.8" x2="829.3" y2="335.0"><stop offset="0" stop-color="#94ae5f"/><stop offset="1" stop-color="#7b9446"/></linearGradient>
<polygon points="913.6,335.0 829.3,322.8 831.0,320.3 833.1,317.8 835.5,315.4 838.2,313.1 841.2,310.8" fill="url(#t140454077644992)" stroke="#748c42" stroke-width=".4"/>
<linearGradient id="w140454077645312" gradientUnits="userSpaceOnUse" x1="866.3" y1="0" x2="1043.1" y2="0"><stop offset="0" stop-color="#345884"/><stop offset=".5" stop-color="#284466"/><stop offset="1" stop-color="#1b2e45"/></linearGradient>
<polygon points="1043.1,339.4 1043.0,341.7 1042.6,344.0 1042.0,346.3 1041.1,348.6 1039.9,350.8 1038.6,353.0 1036.9,355.2 1035.1,357.3 1033.0,359.4 1030.7,361.4 1028.2,363.3 1025.4,365.2 1022.5,367.0 1019.3,368.7 1016.0,370.4 1012.5,371.9 1008.8,373.4 1005.0,374.8 1001.1,376.0 997.0,377.2 992.7,378.2 988.4,379.2 984.0,380.0 979.5,380.7 974.9,381.3 970.2,381.7 965.5,382.1 960.8,382.3 956.1,382.4 956.1,401.4 960.8,401.3 965.5,401.1 970.2,400.7 974.9,400.3 979.5,399.7 984.0,399.0 988.4,398.2 992.7,397.2 997.0,396.2 1001.1,395.0 1005.0,393.8 1008.8,392.4 1012.5,390.9 1016.0,389.4 1019.3,387.7 1022.5,386.0 1025.4,384.2 1028.2,382.3 1030.7,380.4 1033.0,378.4 1035.1,376.3 1036.9,374.2 1038.6,372.0 1039.9,369.8 1041.1,367.6 1042.0,365.3 1042.6,363.0 1043.0,360.7 1043.1,358.4" fill="url(#w140454077645312)"/>
<linearGradient id="t140454077645312" gradientUnits="userSpaceOnUse" x1="1043.1" y1="296.8" x2="954.7" y2="382.4"><stop offset="0" stop-color="#547cae"/><stop offset="1" stop-color="#3a6394"/></linearGradient>
<polygon points="954.7,339.4 954.7,296.8 959.4,296.9 964.0,297.0 968.7,297.3 973.3,297.8 977.8,298.3 982.3,298.9 986.7,299.7 991.1,300.6 995.3,301.6 999.4,302.6 1003.4,303.8 1007.2,305.1 1010.9,306.5 1014.4,308.0 1017.8,309.6 1021.0,311.2 1024.0,312.9 1026.8,314.7 1029.4,316.6 1031.8,318.6 1034.0,320.6 1035.9,322.6 1037.7,324.7 1039.2,326.8 1040.4,329.0 1041.5,331.2 1042.2,333.4 1042.8,335.7 1043.0,337.9 1043.1,340.2 1042.9,342.5 1042.4,344.7 1041.7,347.0 1040.8,349.2 1039.6,351.4 1038.1,353.6 1036.5,355.7 1034.6,357.8 1032.5,359.8 1030.1,361.8 1027.6,363.7 1024.8,365.6 1021.9,367.3 1018.8,369.0 1015.4,370.6 1011.9,372.2 1008.3,373.6 1004.5,374.9 1000.6,376.2 996.5,377.3 992.3,378.3 988.0,379.2 983.6,380.0 979.2,380.7 974.6,381.3 970.1,381.7 965.4,382.1 960.8,382.3 956.1,382.4" fill="url(#t140454077645312)" stroke="#375d8c" stroke-width=".4"/>
<linearGradient id="w140454077645248" gradientUnits="userSpaceOnUse" x1="823.4" y1="0" x2="1001.4" y2="0"><stop offset="0" stop-color="#863533"/><stop offset=".5" stop-color="#682927"/><stop offset="1" stop-color="#461c1a"/></linearGradient>
<polygon points="913.8,391.4 909.1,391.4 904.4,391.2 899.7,390.9 895.1,390.5 890.5,390.0 886.0,389.3 881.5,388.5 877.1,387.6 872.9,386.5 868.7,385.3 864.7,384.1 860.8,382.7 857.0,381.2 853.4,379.6 850.0,377.9 846.7,376.1 843.6,374.2 840.7,372.3 838.0,370.2 835.6,368.1 833.3,365.9 831.2,363.7 829.4,361.4 827.8,359.1 826.5,356.7 825.4,354.3 824.5,351.8 823.9,349.4 823.5,346.9 823.4,344.4 823.4,363.4 823.5,365.9 823.9,368.4 824.5,370.8 825.4,373.3 826.5,375.7 827.8,378.1 829.4,380.4 831.2,382.7 833.3,384.9 835.6,387.1 838.0,389.2 840.7,391.3 843.6,393.2 846.7,395.1 850.0,396.9 853.4,398.6 857.0,400.2 860.8,401.7 864.7,403.1 868.7,404.3 872.9,405.5 877.1,406.6 881.5,407.5 886.0,408.3 890.5,409.0 895.1,409.5 899.7,409.9 904.4,410.2 909.1,410.4 913.8,410.4" fill="url(#w140454077645248)"/>
<linearGradient id="t140454077645248" gradientUnits="userSpaceOnUse" x1="913.8" y1="332.2" x2="823.4" y2="391.4"><stop offset="0" stop-color="#b05553"/><stop offset="1" stop-color="#973c39"/></linearGradient>
<polygon points="912.4,344.4 913.8,391.4 909.0,391.4 904.3,391.2 899.5,390.9 894.8,390.5 890.2,389.9 885.6,389.2 881.1,388.4 876.7,387.4 872.3,386.4 868.1,385.2 864.1,383.9 860.1,382.4 856.3,380.9 852.7,379.3 849.3,377.5 846.0,375.7 842.9,373.8 840.0,371.8 837.4,369.7 834.9,367.5 832.7,365.3 830.7,363.0 828.9,360.7 827.4,358.3 826.1,355.8 825.0,353.4 824.3,350.9 823.7,348.4 823.4,345.9 823.4,343.5 823.7,341.2 824.1,338.9 824.9,336.6 825.9,334.4 827.1,332.2" fill="url(#t140454077645248)" stroke="#8e3836" stroke-width=".4"/>
<polyline points="836.6,203.7 840.0,204.3 862.9,297.0" fill="none" stroke="#1a1a1a" stroke-width="1.3"/>
<polyline points="852.7,246.6 857.6,246.6 868.0,296.4" fill="none" stroke="#1a1a1a" stroke-width="1.3"/>
<polyline points="880.4,226.5 876.0,226.5 876.0,294.7" fill="none" stroke="#1a1a1a" stroke-width="1.3"/>
<polyline points="889.0,276.6 887.0,277.5 885.6,291.0" fill="none" stroke="#1a1a1a" stroke-width="1.3"/>
<polyline points="943.0,229.4 937.0,229.4 895.5,288.3" fill="none" stroke="#1a1a1a" stroke-width="1.3"/>
<polyline points="934.3,264.0 930.0,265.0 909.0,287.7" fill="none" stroke="#1a1a1a" stroke-width="1.3"/>
<polyline points="988.0,256.0 983.9,256.8 921.8,287.7" fill="none" stroke="#1a1a1a" stroke-width="1.3"/>
<polyline points="830.8,293.5 836.0,294.0 849.8,303.4" fill="none" stroke="#1a1a1a" stroke-width="1.3"/>
<text x="829.4" y="182.2" text-anchor="middle" font-size="8.8" font-weight="normal" fill="#262626">Starting</text>
<text x="829.4" y="193.2" text-anchor="middle" font-size="8.8" font-weight="normal" fill="#262626">inventory</text>
<text x="829.4" y="204.9" text-anchor="middle" font-size="8.8" font-weight="normal" fill="#262626">2%</text>
<text x="887.0" y="180.2" text-anchor="middle" font-size="8.8" font-weight="normal" fill="#262626">Legal and</text>
<text x="887.0" y="191.5" text-anchor="middle" font-size="8.8" font-weight="normal" fill="#262626">other</text>
<text x="887.0" y="202.9" text-anchor="middle" font-size="8.8" font-weight="normal" fill="#262626">professional</text>
<text x="887.0" y="214.5" text-anchor="middle" font-size="8.8" font-weight="normal" fill="#262626">fees</text>
<text x="887.0" y="225.6" text-anchor="middle" font-size="8.8" font-weight="normal" fill="#262626">2%</text>
<text x="964.0" y="206.2" text-anchor="middle" font-size="8.8" font-weight="normal" fill="#262626">Advertising</text>
<text x="964.0" y="217.7" text-anchor="middle" font-size="8.8" font-weight="normal" fill="#262626">and</text>
<text x="964.0" y="229.2" text-anchor="middle" font-size="8.8" font-weight="normal" fill="#262626">promotion</text>
<text x="964.0" y="240.5" text-anchor="middle" font-size="8.8" font-weight="normal" fill="#262626">2%</text>
<text x="839.6" y="223.8" text-anchor="middle" font-size="8.8" font-weight="normal" fill="#262626">Deposits</text>
<text x="839.6" y="235.2" text-anchor="middle" font-size="8.8" font-weight="normal" fill="#262626">with public</text>
<text x="839.6" y="246.6" text-anchor="middle" font-size="8.8" font-weight="normal" fill="#262626">utilities</text>
<text x="839.6" y="258.0" text-anchor="middle" font-size="8.8" font-weight="normal" fill="#262626">0%</text>
<text x="893.2" y="242.5" text-anchor="middle" font-size="8.8" font-weight="normal" fill="#262626">Licenses</text>
<text x="893.2" y="253.9" text-anchor="middle" font-size="8.8" font-weight="normal" fill="#262626">and</text>
<text x="893.2" y="265.2" text-anchor="middle" font-size="8.8" font-weight="normal" fill="#262626">permits</text>
<text x="893.2" y="276.6" text-anchor="middle" font-size="8.8" font-weight="normal" fill="#262626">1%</text>
<text x="940.7" y="254.2" text-anchor="middle" font-size="8.8" font-weight="normal" fill="#262626">Cash</text>
<text x="940.7" y="265.2" text-anchor="middle" font-size="8.8" font-weight="normal" fill="#262626">2%</text>
<text x="994.7" y="245.7" text-anchor="middle" font-size="8.8" font-weight="normal" fill="#262626">Other</text>
<text x="994.7" y="257.1" text-anchor="middle" font-size="8.8" font-weight="normal" fill="#262626">3%</text>
<text x="825.0" y="271.9" text-anchor="middle" font-size="8.8" font-weight="normal" fill="#262626">Installation</text>
<text x="825.0" y="283.0" text-anchor="middle" font-size="8.8" font-weight="normal" fill="#262626">charges</text>
<text x="825.0" y="294.4" text-anchor="middle" font-size="8.8" font-weight="normal" fill="#262626">3%</text>
<text x="816.2" y="312.5" text-anchor="middle" font-size="8.8" font-weight="normal" fill="#262626">Supplies</text>
<text x="816.2" y="323.5" text-anchor="middle" font-size="8.8" font-weight="normal" fill="#262626">5%</text>
<text x="1013.6" y="334.4" text-anchor="middle" font-size="8.8" font-weight="normal" fill="#262626">Equipment</text>
<text x="1013.6" y="345.2" text-anchor="middle" font-size="8.8" font-weight="normal" fill="#262626">50%</text>
<text x="871.0" y="365.9" text-anchor="middle" font-size="8.8" font-weight="normal" fill="#262626">Van</text>
<text x="871.0" y="377.0" text-anchor="middle" font-size="8.8" font-weight="normal" fill="#262626">30%</text>
</svg>
<div style="left:1026.0px;top:390.0px;width:45.0px;height:44.5px;background:#fff;border:1px solid #9a9a9a;box-sizing:border-box;box-shadow:2px 2px 3px rgba(0,0,0,.35)"></div>
<div class="t" style="left:1032px;top:392.5px;width:40px;height:40px;line-height:20px;font-size:14.5px;color:#555;text-align:left;white-space:nowrap;overflow:hidden">Series<br>Value</div>
</body></html>
